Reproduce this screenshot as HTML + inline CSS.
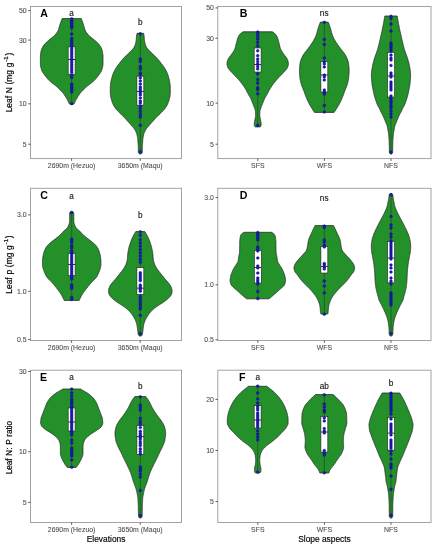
<!DOCTYPE html>
<html><head><meta charset="utf-8"><title>Figure</title>
<style>html,body{margin:0;padding:0;background:#fff}svg{display:block}</style></head>
<body>
<svg width="436" height="550" viewBox="0 0 436 550">
<rect width="436" height="550" fill="#fff"/>
<g font-family="'Liberation Sans', Arial, sans-serif">
<rect x="30.5" y="6.5" width="151.0" height="152.1" fill="#fff" stroke="#9a9a9a" stroke-width="0.9"/>
<rect x="217.8" y="6.5" width="213.2" height="152.1" fill="#fff" stroke="#9a9a9a" stroke-width="0.9"/>
<rect x="30.5" y="188.3" width="151.0" height="152.2" fill="#fff" stroke="#9a9a9a" stroke-width="0.9"/>
<rect x="217.8" y="188.3" width="213.2" height="152.2" fill="#fff" stroke="#9a9a9a" stroke-width="0.9"/>
<rect x="30.5" y="370.2" width="151.0" height="152.3" fill="#fff" stroke="#9a9a9a" stroke-width="0.9"/>
<rect x="217.8" y="370.2" width="213.2" height="152.3" fill="#fff" stroke="#9a9a9a" stroke-width="0.9"/>
<path d="M81.3 18.6 L81.5 19.1 L81.7 19.6 L81.9 20.1 L82.0 20.6 L82.2 21.1 L82.4 21.6 L82.6 22.1 L82.8 22.6 L82.9 23.1 L83.1 23.6 L83.3 24.1 L83.4 24.6 L83.6 25.1 L83.7 25.6 L83.9 26.1 L84.0 26.6 L84.1 27.1 L84.3 27.6 L84.4 28.1 L84.6 28.6 L84.7 29.1 L84.9 29.6 L85.1 30.1 L85.3 30.6 L85.6 31.1 L85.9 31.6 L86.2 32.1 L86.5 32.6 L86.9 33.1 L87.3 33.6 L87.7 34.1 L88.1 34.6 L88.5 35.1 L89.0 35.6 L89.5 36.1 L90.0 36.6 L90.7 37.1 L91.3 37.6 L91.9 38.1 L92.6 38.6 L93.2 39.1 L93.9 39.6 L94.5 40.1 L95.0 40.6 L95.6 41.1 L96.1 41.6 L96.7 42.1 L97.2 42.6 L97.7 43.1 L98.2 43.6 L98.7 44.1 L99.1 44.6 L99.5 45.1 L99.8 45.6 L100.1 46.1 L100.5 46.6 L100.8 47.1 L101.0 47.6 L101.3 48.1 L101.5 48.6 L101.7 49.1 L101.9 49.6 L102.1 50.1 L102.2 50.6 L102.3 51.1 L102.4 51.6 L102.5 52.1 L102.6 52.6 L102.7 53.1 L102.7 53.6 L102.8 54.1 L102.9 54.6 L102.9 55.1 L103.0 55.6 L103.0 56.1 L103.0 56.6 L103.0 57.1 L103.0 57.6 L103.0 58.1 L103.0 58.6 L103.0 59.1 L103.0 59.6 L103.0 60.1 L103.0 60.6 L103.0 61.1 L103.0 61.6 L103.0 62.1 L103.0 62.6 L103.0 63.1 L103.0 63.6 L103.0 64.1 L103.0 64.6 L102.9 65.1 L102.8 65.6 L102.8 66.1 L102.7 66.6 L102.6 67.1 L102.5 67.6 L102.3 68.1 L102.2 68.6 L102.1 69.1 L101.9 69.6 L101.8 70.1 L101.6 70.6 L101.4 71.1 L101.1 71.6 L100.8 72.1 L100.5 72.6 L100.1 73.1 L99.8 73.6 L99.4 74.1 L99.1 74.6 L98.7 75.1 L98.4 75.6 L98.0 76.1 L97.6 76.6 L97.2 77.1 L96.8 77.6 L96.4 78.1 L96.0 78.6 L95.6 79.1 L95.1 79.6 L94.6 80.1 L94.1 80.6 L93.6 81.1 L93.1 81.6 L92.5 82.1 L91.9 82.6 L91.2 83.1 L90.6 83.6 L89.9 84.1 L89.2 84.6 L88.6 85.1 L87.9 85.6 L87.3 86.1 L86.7 86.6 L86.1 87.1 L85.6 87.6 L85.1 88.1 L84.6 88.6 L84.2 89.1 L83.7 89.6 L83.2 90.1 L82.7 90.6 L82.2 91.1 L81.6 91.6 L81.1 92.1 L80.7 92.6 L80.2 93.1 L79.9 93.6 L79.5 94.1 L79.2 94.6 L78.9 95.1 L78.6 95.6 L78.2 96.1 L77.9 96.6 L77.6 97.1 L77.3 97.6 L76.9 98.1 L76.7 98.6 L76.4 99.1 L76.1 99.6 L75.9 100.1 L75.6 100.6 L75.4 101.1 L75.1 101.6 L74.9 102.1 L74.7 102.6 L74.5 103.1 L74.2 103.6 L73.7 104.1 L73.5 104.3 L69.9 104.3 L69.7 104.1 L69.2 103.6 L68.9 103.1 L68.7 102.6 L68.5 102.1 L68.3 101.6 L68.0 101.1 L67.8 100.6 L67.5 100.1 L67.3 99.6 L67.0 99.1 L66.7 98.6 L66.5 98.1 L66.1 97.6 L65.8 97.1 L65.5 96.6 L65.2 96.1 L64.8 95.6 L64.5 95.1 L64.2 94.6 L63.9 94.1 L63.5 93.6 L63.2 93.1 L62.7 92.6 L62.3 92.1 L61.8 91.6 L61.2 91.1 L60.7 90.6 L60.2 90.1 L59.7 89.6 L59.2 89.1 L58.8 88.6 L58.3 88.1 L57.8 87.6 L57.3 87.1 L56.7 86.6 L56.1 86.1 L55.5 85.6 L54.8 85.1 L54.2 84.6 L53.5 84.1 L52.8 83.6 L52.2 83.1 L51.5 82.6 L50.9 82.1 L50.3 81.6 L49.8 81.1 L49.3 80.6 L48.8 80.1 L48.3 79.6 L47.8 79.1 L47.4 78.6 L47.0 78.1 L46.6 77.6 L46.2 77.1 L45.8 76.6 L45.4 76.1 L45.0 75.6 L44.7 75.1 L44.3 74.6 L44.0 74.1 L43.6 73.6 L43.3 73.1 L42.9 72.6 L42.6 72.1 L42.3 71.6 L42.0 71.1 L41.8 70.6 L41.6 70.1 L41.5 69.6 L41.3 69.1 L41.2 68.6 L41.1 68.1 L40.9 67.6 L40.8 67.1 L40.7 66.6 L40.6 66.1 L40.6 65.6 L40.5 65.1 L40.4 64.6 L40.4 64.1 L40.4 63.6 L40.4 63.1 L40.4 62.6 L40.4 62.1 L40.4 61.6 L40.4 61.1 L40.4 60.6 L40.4 60.1 L40.4 59.6 L40.4 59.1 L40.4 58.6 L40.4 58.1 L40.4 57.6 L40.4 57.1 L40.4 56.6 L40.4 56.1 L40.4 55.6 L40.5 55.1 L40.5 54.6 L40.6 54.1 L40.7 53.6 L40.7 53.1 L40.8 52.6 L40.9 52.1 L41.0 51.6 L41.1 51.1 L41.2 50.6 L41.3 50.1 L41.5 49.6 L41.7 49.1 L41.9 48.6 L42.1 48.1 L42.4 47.6 L42.6 47.1 L42.9 46.6 L43.3 46.1 L43.6 45.6 L43.9 45.1 L44.3 44.6 L44.7 44.1 L45.2 43.6 L45.7 43.1 L46.2 42.6 L46.7 42.1 L47.3 41.6 L47.8 41.1 L48.4 40.6 L48.9 40.1 L49.5 39.6 L50.2 39.1 L50.8 38.6 L51.5 38.1 L52.1 37.6 L52.7 37.1 L53.4 36.6 L53.9 36.1 L54.4 35.6 L54.9 35.1 L55.3 34.6 L55.7 34.1 L56.1 33.6 L56.5 33.1 L56.9 32.6 L57.2 32.1 L57.5 31.6 L57.8 31.1 L58.1 30.6 L58.3 30.1 L58.5 29.6 L58.7 29.1 L58.8 28.6 L59.0 28.1 L59.1 27.6 L59.3 27.1 L59.4 26.6 L59.5 26.1 L59.7 25.6 L59.8 25.1 L60.0 24.6 L60.1 24.1 L60.3 23.6 L60.5 23.1 L60.6 22.6 L60.8 22.1 L61.0 21.6 L61.2 21.1 L61.4 20.6 L61.5 20.1 L61.7 19.6 L61.9 19.1 L62.1 18.6 Z" fill="#23902a" stroke="#2b2b2b" stroke-width="0.8" stroke-linejoin="round"/>
<line x1="71.7" y1="18.6" x2="71.7" y2="104.3" stroke="#2b2b2b" stroke-width="0.5"/>
<rect x="68.2" y="46.9" width="6.9" height="27.3" fill="#fff" stroke="#222" stroke-width="0.6"/>
<line x1="68.2" y1="59.5" x2="75.2" y2="59.5" stroke="#222" stroke-width="0.9"/>
<g fill="#1a1ec4" stroke="#0a0a78" stroke-width="0.5"><circle cx="71.7" cy="18.8" r="1.35"/><circle cx="71.7" cy="20.3" r="1.35"/><circle cx="71.7" cy="21.8" r="1.35"/><circle cx="71.7" cy="23.3" r="1.35"/><circle cx="71.7" cy="24.8" r="1.35"/><circle cx="71.7" cy="26.3" r="1.35"/><circle cx="71.7" cy="27.8" r="1.35"/><circle cx="71.7" cy="34.0" r="1.35"/><circle cx="71.7" cy="38.5" r="1.35"/><circle cx="71.7" cy="40.5" r="1.35"/><circle cx="71.7" cy="42.5" r="1.35"/><circle cx="71.7" cy="44.5" r="1.35"/><circle cx="71.7" cy="46.5" r="1.35"/><circle cx="71.7" cy="48.5" r="1.35"/><circle cx="71.7" cy="50.5" r="1.35"/><circle cx="71.7" cy="52.5" r="1.35"/><circle cx="71.7" cy="54.5" r="1.35"/><circle cx="71.7" cy="56.5" r="1.35"/><circle cx="71.7" cy="58.5" r="1.35"/><circle cx="71.7" cy="60.5" r="1.35"/><circle cx="71.7" cy="62.5" r="1.35"/><circle cx="71.7" cy="64.5" r="1.35"/><circle cx="71.7" cy="66.5" r="1.35"/><circle cx="71.7" cy="68.5" r="1.35"/><circle cx="71.7" cy="70.5" r="1.35"/><circle cx="71.7" cy="72.5" r="1.35"/><circle cx="71.7" cy="75.5" r="1.35"/><circle cx="71.7" cy="77.5" r="1.35"/><circle cx="71.7" cy="84.0" r="1.35"/><circle cx="71.7" cy="86.0" r="1.35"/><circle cx="71.7" cy="88.0" r="1.35"/><circle cx="71.7" cy="90.0" r="1.35"/><circle cx="71.7" cy="92.0" r="1.35"/><circle cx="71.7" cy="103.6" r="1.35"/></g>
<path d="M143.6 33.3 L143.7 33.8 L143.8 34.3 L143.9 34.8 L144.0 35.3 L144.1 35.8 L144.1 36.3 L144.2 36.8 L144.2 37.3 L144.2 37.8 L144.3 38.3 L144.3 38.8 L144.3 39.3 L144.4 39.8 L144.4 40.3 L144.5 40.8 L144.6 41.3 L144.7 41.8 L144.8 42.3 L144.9 42.8 L145.0 43.3 L145.1 43.8 L145.2 44.3 L145.4 44.8 L145.6 45.3 L145.8 45.8 L146.0 46.3 L146.3 46.8 L146.5 47.3 L146.9 47.8 L147.3 48.3 L147.6 48.8 L148.0 49.3 L148.5 49.8 L149.0 50.3 L149.5 50.8 L150.0 51.3 L150.5 51.8 L151.0 52.3 L151.5 52.8 L152.0 53.3 L152.5 53.8 L153.0 54.3 L153.5 54.8 L154.1 55.3 L154.6 55.8 L155.1 56.3 L155.6 56.8 L156.1 57.3 L156.6 57.8 L157.0 58.3 L157.5 58.8 L157.9 59.3 L158.4 59.8 L158.8 60.3 L159.2 60.8 L159.6 61.3 L160.0 61.8 L160.4 62.3 L160.7 62.8 L161.1 63.3 L161.5 63.8 L161.9 64.3 L162.3 64.8 L162.7 65.3 L163.1 65.8 L163.4 66.3 L163.8 66.8 L164.1 67.3 L164.4 67.8 L164.7 68.3 L165.0 68.8 L165.3 69.3 L165.6 69.8 L165.9 70.3 L166.2 70.8 L166.4 71.3 L166.6 71.8 L166.9 72.3 L167.1 72.8 L167.3 73.3 L167.5 73.8 L167.7 74.3 L167.9 74.8 L168.0 75.3 L168.2 75.8 L168.4 76.3 L168.5 76.8 L168.6 77.3 L168.8 77.8 L168.9 78.3 L169.0 78.8 L169.2 79.3 L169.3 79.8 L169.4 80.3 L169.5 80.8 L169.6 81.3 L169.7 81.8 L169.8 82.3 L169.8 82.8 L169.9 83.3 L170.0 83.8 L170.0 84.3 L170.1 84.8 L170.1 85.3 L170.2 85.8 L170.2 86.3 L170.3 86.8 L170.3 87.3 L170.3 87.8 L170.3 88.3 L170.3 88.8 L170.3 89.3 L170.3 89.8 L170.3 90.3 L170.3 90.8 L170.3 91.3 L170.3 91.8 L170.3 92.3 L170.3 92.8 L170.3 93.3 L170.2 93.8 L170.2 94.3 L170.1 94.8 L170.1 95.3 L170.0 95.8 L170.0 96.3 L169.9 96.8 L169.8 97.3 L169.7 97.8 L169.5 98.3 L169.4 98.8 L169.3 99.3 L169.1 99.8 L169.0 100.3 L168.8 100.8 L168.7 101.3 L168.5 101.8 L168.3 102.3 L168.1 102.8 L167.9 103.3 L167.7 103.8 L167.5 104.3 L167.3 104.8 L167.0 105.3 L166.7 105.8 L166.5 106.3 L166.1 106.8 L165.8 107.3 L165.5 107.8 L165.1 108.3 L164.8 108.8 L164.4 109.3 L164.0 109.8 L163.5 110.3 L163.0 110.8 L162.4 111.3 L161.9 111.8 L161.4 112.3 L161.0 112.8 L160.5 113.3 L160.1 113.8 L159.6 114.3 L159.1 114.8 L158.6 115.3 L158.0 115.8 L157.5 116.3 L156.9 116.8 L156.4 117.3 L155.9 117.8 L155.5 118.3 L155.0 118.8 L154.6 119.3 L154.2 119.8 L153.7 120.3 L153.3 120.8 L152.8 121.3 L152.4 121.8 L151.9 122.3 L151.5 122.8 L151.0 123.3 L150.6 123.8 L150.2 124.3 L149.7 124.8 L149.3 125.3 L148.9 125.8 L148.4 126.3 L148.0 126.8 L147.5 127.3 L147.1 127.8 L146.7 128.3 L146.3 128.8 L146.0 129.3 L145.7 129.8 L145.4 130.3 L145.1 130.8 L144.9 131.3 L144.7 131.8 L144.4 132.3 L144.2 132.8 L144.0 133.3 L143.9 133.8 L143.7 134.3 L143.6 134.8 L143.5 135.3 L143.4 135.8 L143.3 136.3 L143.2 136.8 L143.1 137.3 L143.0 137.8 L142.9 138.3 L142.9 138.8 L142.8 139.3 L142.8 139.8 L142.8 140.3 L142.7 140.8 L142.7 141.3 L142.7 141.8 L142.6 142.3 L142.6 142.8 L142.6 143.3 L142.5 143.8 L142.5 144.3 L142.4 144.8 L142.4 145.3 L142.3 145.8 L142.3 146.3 L142.3 146.8 L142.3 147.3 L142.3 147.8 L142.3 148.3 L142.3 148.8 L142.3 149.3 L142.3 149.8 L142.3 150.3 L142.3 150.8 L142.3 151.3 L142.3 151.8 L142.3 152.3 L142.1 152.8 L141.8 153.3 L141.2 153.8 L141.0 153.9 L139.6 153.9 L139.4 153.8 L138.8 153.3 L138.5 152.8 L138.3 152.3 L138.3 151.8 L138.3 151.3 L138.3 150.8 L138.3 150.3 L138.3 149.8 L138.3 149.3 L138.3 148.8 L138.3 148.3 L138.3 147.8 L138.3 147.3 L138.3 146.8 L138.3 146.3 L138.3 145.8 L138.2 145.3 L138.2 144.8 L138.1 144.3 L138.1 143.8 L138.0 143.3 L138.0 142.8 L138.0 142.3 L137.9 141.8 L137.9 141.3 L137.9 140.8 L137.8 140.3 L137.8 139.8 L137.8 139.3 L137.7 138.8 L137.7 138.3 L137.6 137.8 L137.5 137.3 L137.4 136.8 L137.3 136.3 L137.2 135.8 L137.1 135.3 L137.0 134.8 L136.9 134.3 L136.7 133.8 L136.6 133.3 L136.4 132.8 L136.2 132.3 L135.9 131.8 L135.7 131.3 L135.5 130.8 L135.2 130.3 L134.9 129.8 L134.6 129.3 L134.3 128.8 L133.9 128.3 L133.5 127.8 L133.1 127.3 L132.6 126.8 L132.2 126.3 L131.7 125.8 L131.3 125.3 L130.9 124.8 L130.4 124.3 L130.0 123.8 L129.6 123.3 L129.1 122.8 L128.7 122.3 L128.2 121.8 L127.8 121.3 L127.3 120.8 L126.9 120.3 L126.4 119.8 L126.0 119.3 L125.6 118.8 L125.1 118.3 L124.7 117.8 L124.2 117.3 L123.7 116.8 L123.1 116.3 L122.6 115.8 L122.0 115.3 L121.5 114.8 L121.0 114.3 L120.5 113.8 L120.1 113.3 L119.6 112.8 L119.2 112.3 L118.7 111.8 L118.2 111.3 L117.6 110.8 L117.1 110.3 L116.6 109.8 L116.2 109.3 L115.8 108.8 L115.5 108.3 L115.1 107.8 L114.8 107.3 L114.5 106.8 L114.1 106.3 L113.9 105.8 L113.6 105.3 L113.3 104.8 L113.1 104.3 L112.9 103.8 L112.7 103.3 L112.5 102.8 L112.3 102.3 L112.1 101.8 L111.9 101.3 L111.8 100.8 L111.6 100.3 L111.5 99.8 L111.3 99.3 L111.2 98.8 L111.1 98.3 L110.9 97.8 L110.8 97.3 L110.7 96.8 L110.6 96.3 L110.6 95.8 L110.5 95.3 L110.5 94.8 L110.4 94.3 L110.4 93.8 L110.3 93.3 L110.3 92.8 L110.3 92.3 L110.3 91.8 L110.3 91.3 L110.3 90.8 L110.3 90.3 L110.3 89.8 L110.3 89.3 L110.3 88.8 L110.3 88.3 L110.3 87.8 L110.3 87.3 L110.3 86.8 L110.4 86.3 L110.4 85.8 L110.5 85.3 L110.5 84.8 L110.6 84.3 L110.6 83.8 L110.7 83.3 L110.8 82.8 L110.8 82.3 L110.9 81.8 L111.0 81.3 L111.1 80.8 L111.2 80.3 L111.3 79.8 L111.4 79.3 L111.6 78.8 L111.7 78.3 L111.8 77.8 L112.0 77.3 L112.1 76.8 L112.2 76.3 L112.4 75.8 L112.6 75.3 L112.7 74.8 L112.9 74.3 L113.1 73.8 L113.3 73.3 L113.5 72.8 L113.7 72.3 L114.0 71.8 L114.2 71.3 L114.4 70.8 L114.7 70.3 L115.0 69.8 L115.3 69.3 L115.6 68.8 L115.9 68.3 L116.2 67.8 L116.5 67.3 L116.8 66.8 L117.2 66.3 L117.5 65.8 L117.9 65.3 L118.3 64.8 L118.7 64.3 L119.1 63.8 L119.5 63.3 L119.9 62.8 L120.2 62.3 L120.6 61.8 L121.0 61.3 L121.4 60.8 L121.8 60.3 L122.2 59.8 L122.7 59.3 L123.1 58.8 L123.6 58.3 L124.0 57.8 L124.5 57.3 L125.0 56.8 L125.5 56.3 L126.0 55.8 L126.5 55.3 L127.1 54.8 L127.6 54.3 L128.1 53.8 L128.6 53.3 L129.1 52.8 L129.6 52.3 L130.1 51.8 L130.6 51.3 L131.1 50.8 L131.6 50.3 L132.1 49.8 L132.6 49.3 L133.0 48.8 L133.3 48.3 L133.7 47.8 L134.1 47.3 L134.3 46.8 L134.6 46.3 L134.8 45.8 L135.0 45.3 L135.2 44.8 L135.4 44.3 L135.5 43.8 L135.6 43.3 L135.7 42.8 L135.8 42.3 L135.9 41.8 L136.0 41.3 L136.1 40.8 L136.2 40.3 L136.2 39.8 L136.3 39.3 L136.3 38.8 L136.3 38.3 L136.4 37.8 L136.4 37.3 L136.4 36.8 L136.5 36.3 L136.5 35.8 L136.6 35.3 L136.7 34.8 L136.8 34.3 L136.9 33.8 L137.0 33.3 Z" fill="#23902a" stroke="#2b2b2b" stroke-width="0.8" stroke-linejoin="round"/>
<line x1="140.3" y1="33.3" x2="140.3" y2="153.9" stroke="#2b2b2b" stroke-width="0.5"/>
<rect x="136.9" y="76.2" width="6.9" height="28.9" fill="#fff" stroke="#222" stroke-width="0.6"/>
<line x1="136.9" y1="91.5" x2="143.8" y2="91.5" stroke="#222" stroke-width="0.9"/>
<g fill="#1a1ec4" stroke="#0a0a78" stroke-width="0.5"><circle cx="140.3" cy="33.8" r="1.35"/><circle cx="140.3" cy="59.0" r="1.35"/><circle cx="140.3" cy="61.4" r="1.35"/><circle cx="140.3" cy="66.6" r="1.35"/><circle cx="140.3" cy="69.0" r="1.35"/><circle cx="140.3" cy="73.0" r="1.35"/><circle cx="140.3" cy="75.0" r="1.35"/><circle cx="140.3" cy="78.0" r="1.35"/><circle cx="140.3" cy="81.0" r="1.35"/><circle cx="140.3" cy="84.0" r="1.35"/><circle cx="140.3" cy="87.0" r="1.35"/><circle cx="140.3" cy="89.0" r="1.35"/><circle cx="140.3" cy="91.0" r="1.35"/><circle cx="140.3" cy="93.0" r="1.35"/><circle cx="140.3" cy="95.0" r="1.35"/><circle cx="140.3" cy="98.0" r="1.35"/><circle cx="140.3" cy="101.0" r="1.35"/><circle cx="140.3" cy="103.0" r="1.35"/><circle cx="140.3" cy="106.0" r="1.35"/><circle cx="140.3" cy="108.5" r="1.35"/><circle cx="140.3" cy="111.5" r="1.35"/><circle cx="140.3" cy="114.5" r="1.35"/><circle cx="140.3" cy="117.0" r="1.35"/><circle cx="140.3" cy="125.3" r="1.35"/><circle cx="140.3" cy="151.8" r="1.35"/></g>
<path d="M72.9 211.8 L73.5 212.3 L73.7 212.8 L73.7 213.3 L73.8 213.8 L73.8 214.3 L73.8 214.8 L73.8 215.3 L73.8 215.8 L73.8 216.3 L73.8 216.8 L73.8 217.3 L73.8 217.8 L73.8 218.3 L73.8 218.8 L73.8 219.3 L73.8 219.8 L73.8 220.3 L73.8 220.8 L73.8 221.3 L73.8 221.8 L73.9 222.3 L74.0 222.8 L74.1 223.3 L74.3 223.8 L74.4 224.3 L74.6 224.8 L74.8 225.3 L75.0 225.8 L75.3 226.3 L75.5 226.8 L75.8 227.3 L76.1 227.8 L76.5 228.3 L76.9 228.8 L77.5 229.3 L78.1 229.8 L78.7 230.3 L79.3 230.8 L79.9 231.3 L80.4 231.8 L80.8 232.3 L81.3 232.8 L81.7 233.3 L82.1 233.8 L82.6 234.3 L83.1 234.8 L83.6 235.3 L84.2 235.8 L84.8 236.3 L85.4 236.8 L86.0 237.3 L86.7 237.8 L87.3 238.3 L87.9 238.8 L88.6 239.3 L89.3 239.8 L89.9 240.3 L90.6 240.8 L91.3 241.3 L91.9 241.8 L92.5 242.3 L93.1 242.8 L93.7 243.3 L94.2 243.8 L94.7 244.3 L95.2 244.8 L95.7 245.3 L96.1 245.8 L96.5 246.3 L96.8 246.8 L97.2 247.3 L97.5 247.8 L97.8 248.3 L98.1 248.8 L98.3 249.3 L98.5 249.8 L98.7 250.3 L98.9 250.8 L99.1 251.3 L99.3 251.8 L99.4 252.3 L99.6 252.8 L99.7 253.3 L99.9 253.8 L100.0 254.3 L100.1 254.8 L100.2 255.3 L100.3 255.8 L100.4 256.3 L100.5 256.8 L100.6 257.3 L100.6 257.8 L100.7 258.3 L100.8 258.8 L100.8 259.3 L100.9 259.8 L100.9 260.3 L100.9 260.8 L100.9 261.3 L100.9 261.8 L100.9 262.3 L100.9 262.8 L100.9 263.3 L100.9 263.8 L100.9 264.3 L100.9 264.8 L100.9 265.3 L100.8 265.8 L100.8 266.3 L100.7 266.8 L100.6 267.3 L100.4 267.8 L100.3 268.3 L100.2 268.8 L100.0 269.3 L99.9 269.8 L99.7 270.3 L99.5 270.8 L99.3 271.3 L99.1 271.8 L98.9 272.3 L98.7 272.8 L98.5 273.3 L98.3 273.8 L98.1 274.3 L97.8 274.8 L97.6 275.3 L97.3 275.8 L97.1 276.3 L96.8 276.8 L96.4 277.3 L96.1 277.8 L95.6 278.3 L95.2 278.8 L94.6 279.3 L94.1 279.8 L93.5 280.3 L93.0 280.8 L92.5 281.3 L92.0 281.8 L91.6 282.3 L91.1 282.8 L90.7 283.3 L90.3 283.8 L89.9 284.3 L89.5 284.8 L89.1 285.3 L88.6 285.8 L88.2 286.3 L87.8 286.8 L87.4 287.3 L87.0 287.8 L86.6 288.3 L86.3 288.8 L85.9 289.3 L85.5 289.8 L85.1 290.3 L84.7 290.8 L84.4 291.3 L84.0 291.8 L83.6 292.3 L83.3 292.8 L82.9 293.3 L82.6 293.8 L82.3 294.3 L82.0 294.8 L81.7 295.3 L81.4 295.8 L81.2 296.3 L80.9 296.8 L80.7 297.3 L80.4 297.8 L80.2 298.3 L80.0 298.8 L79.7 299.3 L79.5 299.8 L79.2 300.3 L79.2 300.4 L64.2 300.4 L64.2 300.3 L63.9 299.8 L63.7 299.3 L63.4 298.8 L63.2 298.3 L63.0 297.8 L62.7 297.3 L62.5 296.8 L62.2 296.3 L62.0 295.8 L61.7 295.3 L61.4 294.8 L61.1 294.3 L60.8 293.8 L60.5 293.3 L60.1 292.8 L59.8 292.3 L59.4 291.8 L59.0 291.3 L58.7 290.8 L58.3 290.3 L57.9 289.8 L57.5 289.3 L57.1 288.8 L56.8 288.3 L56.4 287.8 L56.0 287.3 L55.6 286.8 L55.2 286.3 L54.8 285.8 L54.3 285.3 L53.9 284.8 L53.5 284.3 L53.1 283.8 L52.7 283.3 L52.3 282.8 L51.8 282.3 L51.4 281.8 L50.9 281.3 L50.4 280.8 L49.9 280.3 L49.3 279.8 L48.8 279.3 L48.2 278.8 L47.8 278.3 L47.3 277.8 L47.0 277.3 L46.6 276.8 L46.3 276.3 L46.1 275.8 L45.8 275.3 L45.6 274.8 L45.3 274.3 L45.1 273.8 L44.9 273.3 L44.7 272.8 L44.5 272.3 L44.3 271.8 L44.1 271.3 L43.9 270.8 L43.7 270.3 L43.5 269.8 L43.4 269.3 L43.2 268.8 L43.1 268.3 L43.0 267.8 L42.8 267.3 L42.7 266.8 L42.6 266.3 L42.6 265.8 L42.5 265.3 L42.5 264.8 L42.5 264.3 L42.5 263.8 L42.5 263.3 L42.5 262.8 L42.5 262.3 L42.5 261.8 L42.5 261.3 L42.5 260.8 L42.5 260.3 L42.5 259.8 L42.6 259.3 L42.6 258.8 L42.7 258.3 L42.8 257.8 L42.8 257.3 L42.9 256.8 L43.0 256.3 L43.1 255.8 L43.2 255.3 L43.3 254.8 L43.4 254.3 L43.5 253.8 L43.7 253.3 L43.8 252.8 L44.0 252.3 L44.1 251.8 L44.3 251.3 L44.5 250.8 L44.7 250.3 L44.9 249.8 L45.1 249.3 L45.3 248.8 L45.6 248.3 L45.9 247.8 L46.2 247.3 L46.6 246.8 L46.9 246.3 L47.3 245.8 L47.7 245.3 L48.2 244.8 L48.7 244.3 L49.2 243.8 L49.7 243.3 L50.3 242.8 L50.9 242.3 L51.5 241.8 L52.1 241.3 L52.8 240.8 L53.5 240.3 L54.1 239.8 L54.8 239.3 L55.5 238.8 L56.1 238.3 L56.7 237.8 L57.4 237.3 L58.0 236.8 L58.6 236.3 L59.2 235.8 L59.8 235.3 L60.3 234.8 L60.8 234.3 L61.3 233.8 L61.7 233.3 L62.1 232.8 L62.6 232.3 L63.0 231.8 L63.5 231.3 L64.1 230.8 L64.7 230.3 L65.3 229.8 L65.9 229.3 L66.5 228.8 L66.9 228.3 L67.3 227.8 L67.6 227.3 L67.9 226.8 L68.1 226.3 L68.4 225.8 L68.6 225.3 L68.8 224.8 L69.0 224.3 L69.1 223.8 L69.3 223.3 L69.4 222.8 L69.5 222.3 L69.6 221.8 L69.6 221.3 L69.6 220.8 L69.6 220.3 L69.6 219.8 L69.6 219.3 L69.6 218.8 L69.6 218.3 L69.6 217.8 L69.6 217.3 L69.6 216.8 L69.6 216.3 L69.6 215.8 L69.6 215.3 L69.6 214.8 L69.6 214.3 L69.6 213.8 L69.7 213.3 L69.7 212.8 L69.9 212.3 L70.5 211.8 Z" fill="#23902a" stroke="#2b2b2b" stroke-width="0.8" stroke-linejoin="round"/>
<line x1="71.7" y1="211.8" x2="71.7" y2="300.4" stroke="#2b2b2b" stroke-width="0.5"/>
<rect x="68.2" y="253.5" width="6.9" height="22.2" fill="#fff" stroke="#222" stroke-width="0.6"/>
<line x1="68.2" y1="264.5" x2="75.2" y2="264.5" stroke="#222" stroke-width="0.9"/>
<g fill="#1a1ec4" stroke="#0a0a78" stroke-width="0.5"><circle cx="71.7" cy="212.6" r="1.35"/><circle cx="71.7" cy="239.0" r="1.35"/><circle cx="71.7" cy="241.0" r="1.35"/><circle cx="71.7" cy="243.0" r="1.35"/><circle cx="71.7" cy="246.0" r="1.35"/><circle cx="71.7" cy="248.0" r="1.35"/><circle cx="71.7" cy="251.0" r="1.35"/><circle cx="71.7" cy="253.0" r="1.35"/><circle cx="71.7" cy="255.0" r="1.35"/><circle cx="71.7" cy="257.0" r="1.35"/><circle cx="71.7" cy="259.0" r="1.35"/><circle cx="71.7" cy="261.0" r="1.35"/><circle cx="71.7" cy="263.0" r="1.35"/><circle cx="71.7" cy="265.0" r="1.35"/><circle cx="71.7" cy="267.0" r="1.35"/><circle cx="71.7" cy="269.0" r="1.35"/><circle cx="71.7" cy="271.0" r="1.35"/><circle cx="71.7" cy="273.0" r="1.35"/><circle cx="71.7" cy="275.0" r="1.35"/><circle cx="71.7" cy="277.0" r="1.35"/><circle cx="71.7" cy="279.0" r="1.35"/><circle cx="71.7" cy="284.8" r="1.35"/><circle cx="71.7" cy="286.6" r="1.35"/><circle cx="71.7" cy="288.4" r="1.35"/><circle cx="71.7" cy="297.4" r="1.35"/><circle cx="71.7" cy="299.4" r="1.35"/></g>
<path d="M144.8 231.6 L145.1 232.1 L145.4 232.6 L145.7 233.1 L146.0 233.6 L146.3 234.1 L146.6 234.6 L146.9 235.1 L147.1 235.6 L147.4 236.1 L147.6 236.6 L147.9 237.1 L148.1 237.6 L148.3 238.1 L148.6 238.6 L148.8 239.1 L149.0 239.6 L149.2 240.1 L149.4 240.6 L149.6 241.1 L149.8 241.6 L149.9 242.1 L150.1 242.6 L150.3 243.1 L150.5 243.6 L150.7 244.1 L150.8 244.6 L151.0 245.1 L151.1 245.6 L151.3 246.1 L151.4 246.6 L151.5 247.1 L151.7 247.6 L151.8 248.1 L151.9 248.6 L152.0 249.1 L152.1 249.6 L152.2 250.1 L152.3 250.6 L152.4 251.1 L152.5 251.6 L152.6 252.1 L152.7 252.6 L152.7 253.1 L152.8 253.6 L152.8 254.1 L152.9 254.6 L152.9 255.1 L153.0 255.6 L153.0 256.1 L153.0 256.6 L153.1 257.1 L153.1 257.6 L153.1 258.1 L153.2 258.6 L153.3 259.1 L153.3 259.6 L153.4 260.1 L153.5 260.6 L153.6 261.1 L153.7 261.6 L153.9 262.1 L154.0 262.6 L154.2 263.1 L154.4 263.6 L154.5 264.1 L154.7 264.6 L154.9 265.1 L155.2 265.6 L155.4 266.1 L155.7 266.6 L156.0 267.1 L156.3 267.6 L156.6 268.1 L156.9 268.6 L157.3 269.1 L157.6 269.6 L157.9 270.1 L158.3 270.6 L158.7 271.1 L159.1 271.6 L159.5 272.1 L159.9 272.6 L160.3 273.1 L160.7 273.6 L161.1 274.1 L161.5 274.6 L161.9 275.1 L162.3 275.6 L162.7 276.1 L163.1 276.6 L163.5 277.1 L163.9 277.6 L164.3 278.1 L164.7 278.6 L165.1 279.1 L165.5 279.6 L166.0 280.1 L166.4 280.6 L166.9 281.1 L167.3 281.6 L167.8 282.1 L168.2 282.6 L168.6 283.1 L169.0 283.6 L169.4 284.1 L169.7 284.6 L170.1 285.1 L170.4 285.6 L170.7 286.1 L170.9 286.6 L171.1 287.1 L171.3 287.6 L171.5 288.1 L171.7 288.6 L171.8 289.1 L171.9 289.6 L171.9 290.1 L172.0 290.6 L172.0 291.1 L172.0 291.6 L172.0 292.1 L171.9 292.6 L171.8 293.1 L171.7 293.6 L171.5 294.1 L171.3 294.6 L171.0 295.1 L170.7 295.6 L170.4 296.1 L170.0 296.6 L169.6 297.1 L169.1 297.6 L168.6 298.1 L168.1 298.6 L167.5 299.1 L166.9 299.6 L166.3 300.1 L165.6 300.6 L164.9 301.1 L164.3 301.6 L163.6 302.1 L162.9 302.6 L162.1 303.1 L161.3 303.6 L160.5 304.1 L159.7 304.6 L159.0 305.1 L158.2 305.6 L157.4 306.1 L156.7 306.6 L156.0 307.1 L155.3 307.6 L154.7 308.1 L154.1 308.6 L153.5 309.1 L152.9 309.6 L152.4 310.1 L151.9 310.6 L151.4 311.1 L150.9 311.6 L150.5 312.1 L150.0 312.6 L149.6 313.1 L149.2 313.6 L148.9 314.1 L148.5 314.6 L148.2 315.1 L147.9 315.6 L147.5 316.1 L147.2 316.6 L146.9 317.1 L146.6 317.6 L146.3 318.1 L146.0 318.6 L145.8 319.1 L145.5 319.6 L145.3 320.1 L145.0 320.6 L144.8 321.1 L144.7 321.6 L144.5 322.1 L144.3 322.6 L144.1 323.1 L144.0 323.6 L143.9 324.1 L143.7 324.6 L143.6 325.1 L143.6 325.6 L143.5 326.1 L143.4 326.6 L143.3 327.1 L143.3 327.6 L143.2 328.1 L143.1 328.6 L143.1 329.1 L143.0 329.6 L143.0 330.1 L142.9 330.6 L142.8 331.1 L142.8 331.6 L142.7 332.1 L142.7 332.6 L142.6 333.1 L142.5 333.6 L142.4 334.1 L142.3 334.6 L142.2 335.1 L141.7 335.6 L141.2 336.0 L139.4 336.0 L138.9 335.6 L138.4 335.1 L138.3 334.6 L138.2 334.1 L138.1 333.6 L138.0 333.1 L137.9 332.6 L137.9 332.1 L137.8 331.6 L137.8 331.1 L137.7 330.6 L137.6 330.1 L137.6 329.6 L137.5 329.1 L137.5 328.6 L137.4 328.1 L137.3 327.6 L137.3 327.1 L137.2 326.6 L137.1 326.1 L137.0 325.6 L137.0 325.1 L136.9 324.6 L136.7 324.1 L136.6 323.6 L136.5 323.1 L136.3 322.6 L136.1 322.1 L135.9 321.6 L135.8 321.1 L135.6 320.6 L135.3 320.1 L135.1 319.6 L134.8 319.1 L134.6 318.6 L134.3 318.1 L134.0 317.6 L133.7 317.1 L133.4 316.6 L133.1 316.1 L132.7 315.6 L132.4 315.1 L132.1 314.6 L131.7 314.1 L131.4 313.6 L131.0 313.1 L130.6 312.6 L130.1 312.1 L129.7 311.6 L129.2 311.1 L128.7 310.6 L128.2 310.1 L127.7 309.6 L127.1 309.1 L126.5 308.6 L125.9 308.1 L125.3 307.6 L124.6 307.1 L123.9 306.6 L123.2 306.1 L122.4 305.6 L121.6 305.1 L120.9 304.6 L120.1 304.1 L119.3 303.6 L118.5 303.1 L117.7 302.6 L117.0 302.1 L116.3 301.6 L115.7 301.1 L115.0 300.6 L114.3 300.1 L113.7 299.6 L113.1 299.1 L112.5 298.6 L112.0 298.1 L111.5 297.6 L111.0 297.1 L110.6 296.6 L110.2 296.1 L109.9 295.6 L109.6 295.1 L109.3 294.6 L109.1 294.1 L108.9 293.6 L108.8 293.1 L108.7 292.6 L108.6 292.1 L108.6 291.6 L108.6 291.1 L108.6 290.6 L108.7 290.1 L108.7 289.6 L108.8 289.1 L108.9 288.6 L109.1 288.1 L109.3 287.6 L109.5 287.1 L109.7 286.6 L109.9 286.1 L110.2 285.6 L110.5 285.1 L110.9 284.6 L111.2 284.1 L111.6 283.6 L112.0 283.1 L112.4 282.6 L112.8 282.1 L113.3 281.6 L113.7 281.1 L114.2 280.6 L114.6 280.1 L115.1 279.6 L115.5 279.1 L115.9 278.6 L116.3 278.1 L116.7 277.6 L117.1 277.1 L117.5 276.6 L117.9 276.1 L118.3 275.6 L118.7 275.1 L119.1 274.6 L119.5 274.1 L119.9 273.6 L120.3 273.1 L120.7 272.6 L121.1 272.1 L121.5 271.6 L121.9 271.1 L122.3 270.6 L122.7 270.1 L123.0 269.6 L123.3 269.1 L123.7 268.6 L124.0 268.1 L124.3 267.6 L124.6 267.1 L124.9 266.6 L125.2 266.1 L125.4 265.6 L125.7 265.1 L125.9 264.6 L126.1 264.1 L126.2 263.6 L126.4 263.1 L126.6 262.6 L126.7 262.1 L126.9 261.6 L127.0 261.1 L127.1 260.6 L127.2 260.1 L127.3 259.6 L127.3 259.1 L127.4 258.6 L127.5 258.1 L127.5 257.6 L127.5 257.1 L127.6 256.6 L127.6 256.1 L127.6 255.6 L127.7 255.1 L127.7 254.6 L127.8 254.1 L127.8 253.6 L127.9 253.1 L127.9 252.6 L128.0 252.1 L128.1 251.6 L128.2 251.1 L128.3 250.6 L128.4 250.1 L128.5 249.6 L128.6 249.1 L128.7 248.6 L128.8 248.1 L128.9 247.6 L129.1 247.1 L129.2 246.6 L129.3 246.1 L129.5 245.6 L129.6 245.1 L129.8 244.6 L129.9 244.1 L130.1 243.6 L130.3 243.1 L130.5 242.6 L130.7 242.1 L130.8 241.6 L131.0 241.1 L131.2 240.6 L131.4 240.1 L131.6 239.6 L131.8 239.1 L132.0 238.6 L132.3 238.1 L132.5 237.6 L132.7 237.1 L133.0 236.6 L133.2 236.1 L133.5 235.6 L133.7 235.1 L134.0 234.6 L134.3 234.1 L134.6 233.6 L134.9 233.1 L135.2 232.6 L135.5 232.1 L135.8 231.6 Z" fill="#23902a" stroke="#2b2b2b" stroke-width="0.8" stroke-linejoin="round"/>
<line x1="140.3" y1="231.6" x2="140.3" y2="336.0" stroke="#2b2b2b" stroke-width="0.5"/>
<rect x="136.9" y="267.6" width="6.9" height="26.7" fill="#fff" stroke="#222" stroke-width="0.6"/>
<line x1="136.9" y1="288.2" x2="143.8" y2="288.2" stroke="#222" stroke-width="0.9"/>
<g fill="#1a1ec4" stroke="#0a0a78" stroke-width="0.5"><circle cx="140.3" cy="231.8" r="1.35"/><circle cx="140.3" cy="235.4" r="1.35"/><circle cx="140.3" cy="239.6" r="1.35"/><circle cx="140.3" cy="242.9" r="1.35"/><circle cx="140.3" cy="246.2" r="1.35"/><circle cx="140.3" cy="249.5" r="1.35"/><circle cx="140.3" cy="252.8" r="1.35"/><circle cx="140.3" cy="256.1" r="1.35"/><circle cx="140.3" cy="259.4" r="1.35"/><circle cx="140.3" cy="262.3" r="1.35"/><circle cx="140.3" cy="272.8" r="1.35"/><circle cx="140.3" cy="274.8" r="1.35"/><circle cx="140.3" cy="276.8" r="1.35"/><circle cx="140.3" cy="278.8" r="1.35"/><circle cx="140.3" cy="280.6" r="1.35"/><circle cx="140.3" cy="285.2" r="1.35"/><circle cx="140.3" cy="287.2" r="1.35"/><circle cx="140.3" cy="289.2" r="1.35"/><circle cx="140.3" cy="291.2" r="1.35"/><circle cx="140.3" cy="296.5" r="1.35"/><circle cx="140.3" cy="299.0" r="1.35"/><circle cx="140.3" cy="301.5" r="1.35"/><circle cx="140.3" cy="304.0" r="1.35"/><circle cx="140.3" cy="306.5" r="1.35"/><circle cx="140.3" cy="309.0" r="1.35"/><circle cx="140.3" cy="315.3" r="1.35"/><circle cx="140.3" cy="333.6" r="1.35"/></g>
<path d="M80.4 389.0 L81.3 389.5 L82.1 390.0 L83.0 390.5 L83.9 391.0 L84.7 391.5 L85.6 392.0 L86.4 392.5 L87.3 393.0 L88.0 393.5 L88.7 394.0 L89.4 394.5 L90.0 395.0 L90.6 395.5 L91.2 396.0 L91.8 396.5 L92.3 397.0 L92.8 397.5 L93.3 398.0 L93.7 398.5 L94.1 399.0 L94.4 399.5 L94.8 400.0 L95.1 400.5 L95.4 401.0 L95.7 401.5 L96.0 402.0 L96.3 402.5 L96.5 403.0 L96.8 403.5 L97.0 404.0 L97.2 404.5 L97.4 405.0 L97.6 405.5 L97.8 406.0 L98.0 406.5 L98.1 407.0 L98.3 407.5 L98.5 408.0 L98.7 408.5 L98.9 409.0 L99.1 409.5 L99.3 410.0 L99.5 410.5 L99.7 411.0 L99.9 411.5 L100.1 412.0 L100.3 412.5 L100.4 413.0 L100.6 413.5 L100.8 414.0 L101.0 414.5 L101.2 415.0 L101.4 415.5 L101.6 416.0 L101.8 416.5 L102.0 417.0 L102.1 417.5 L102.3 418.0 L102.4 418.5 L102.4 419.0 L102.5 419.5 L102.6 420.0 L102.6 420.5 L102.7 421.0 L102.7 421.5 L102.8 422.0 L102.8 422.5 L102.8 423.0 L102.7 423.5 L102.6 424.0 L102.4 424.5 L102.2 425.0 L102.0 425.5 L101.8 426.0 L101.5 426.5 L101.0 427.0 L100.5 427.5 L99.9 428.0 L99.3 428.5 L98.6 429.0 L97.9 429.5 L97.2 430.0 L96.5 430.5 L95.7 431.0 L94.9 431.5 L94.1 432.0 L93.2 432.5 L92.4 433.0 L91.7 433.5 L91.0 434.0 L90.3 434.5 L89.6 435.0 L89.0 435.5 L88.4 436.0 L87.8 436.5 L87.3 437.0 L86.8 437.5 L86.3 438.0 L85.8 438.5 L85.4 439.0 L85.0 439.5 L84.6 440.0 L84.4 440.5 L84.2 441.0 L84.0 441.5 L83.8 442.0 L83.7 442.5 L83.6 443.0 L83.4 443.5 L83.3 444.0 L83.2 444.5 L83.1 445.0 L83.1 445.5 L83.0 446.0 L83.0 446.5 L83.0 447.0 L83.0 447.5 L83.0 448.0 L83.0 448.5 L83.0 449.0 L83.0 449.5 L83.0 450.0 L83.0 450.5 L83.0 451.0 L83.0 451.5 L83.0 452.0 L83.0 452.5 L83.0 453.0 L83.0 453.5 L83.0 454.0 L82.9 454.5 L82.8 455.0 L82.7 455.5 L82.5 456.0 L82.3 456.5 L82.2 457.0 L82.0 457.5 L81.8 458.0 L81.6 458.5 L81.4 459.0 L81.1 459.5 L80.9 460.0 L80.6 460.5 L80.3 461.0 L80.0 461.5 L79.8 462.0 L79.5 462.5 L79.2 463.0 L78.9 463.5 L78.6 464.0 L78.3 464.5 L78.0 465.0 L77.6 465.5 L77.2 466.0 L76.8 466.5 L76.4 467.0 L76.1 467.4 L67.3 467.4 L67.0 467.0 L66.6 466.5 L66.2 466.0 L65.8 465.5 L65.4 465.0 L65.1 464.5 L64.8 464.0 L64.5 463.5 L64.2 463.0 L63.9 462.5 L63.6 462.0 L63.4 461.5 L63.1 461.0 L62.8 460.5 L62.5 460.0 L62.3 459.5 L62.0 459.0 L61.8 458.5 L61.6 458.0 L61.4 457.5 L61.2 457.0 L61.1 456.5 L60.9 456.0 L60.7 455.5 L60.6 455.0 L60.5 454.5 L60.4 454.0 L60.4 453.5 L60.4 453.0 L60.4 452.5 L60.4 452.0 L60.4 451.5 L60.4 451.0 L60.4 450.5 L60.4 450.0 L60.4 449.5 L60.4 449.0 L60.4 448.5 L60.4 448.0 L60.4 447.5 L60.4 447.0 L60.4 446.5 L60.4 446.0 L60.3 445.5 L60.3 445.0 L60.2 444.5 L60.1 444.0 L60.0 443.5 L59.8 443.0 L59.7 442.5 L59.6 442.0 L59.4 441.5 L59.2 441.0 L59.0 440.5 L58.8 440.0 L58.4 439.5 L58.0 439.0 L57.6 438.5 L57.1 438.0 L56.6 437.5 L56.1 437.0 L55.6 436.5 L55.0 436.0 L54.4 435.5 L53.8 435.0 L53.1 434.5 L52.4 434.0 L51.7 433.5 L51.0 433.0 L50.2 432.5 L49.3 432.0 L48.5 431.5 L47.7 431.0 L46.9 430.5 L46.2 430.0 L45.5 429.5 L44.8 429.0 L44.1 428.5 L43.5 428.0 L42.9 427.5 L42.4 427.0 L41.9 426.5 L41.6 426.0 L41.4 425.5 L41.2 425.0 L41.0 424.5 L40.8 424.0 L40.7 423.5 L40.6 423.0 L40.6 422.5 L40.6 422.0 L40.7 421.5 L40.7 421.0 L40.8 420.5 L40.8 420.0 L40.9 419.5 L41.0 419.0 L41.0 418.5 L41.1 418.0 L41.3 417.5 L41.4 417.0 L41.6 416.5 L41.8 416.0 L42.0 415.5 L42.2 415.0 L42.4 414.5 L42.6 414.0 L42.8 413.5 L43.0 413.0 L43.1 412.5 L43.3 412.0 L43.5 411.5 L43.7 411.0 L43.9 410.5 L44.1 410.0 L44.3 409.5 L44.5 409.0 L44.7 408.5 L44.9 408.0 L45.1 407.5 L45.3 407.0 L45.4 406.5 L45.6 406.0 L45.8 405.5 L46.0 405.0 L46.2 404.5 L46.4 404.0 L46.6 403.5 L46.9 403.0 L47.1 402.5 L47.4 402.0 L47.7 401.5 L48.0 401.0 L48.3 400.5 L48.6 400.0 L49.0 399.5 L49.3 399.0 L49.7 398.5 L50.1 398.0 L50.6 397.5 L51.1 397.0 L51.6 396.5 L52.2 396.0 L52.8 395.5 L53.4 395.0 L54.0 394.5 L54.7 394.0 L55.4 393.5 L56.1 393.0 L57.0 392.5 L57.8 392.0 L58.7 391.5 L59.5 391.0 L60.4 390.5 L61.3 390.0 L62.1 389.5 L63.0 389.0 Z" fill="#23902a" stroke="#2b2b2b" stroke-width="0.8" stroke-linejoin="round"/>
<line x1="71.7" y1="389.0" x2="71.7" y2="467.4" stroke="#2b2b2b" stroke-width="0.5"/>
<rect x="68.2" y="408.0" width="6.9" height="23.0" fill="#fff" stroke="#222" stroke-width="0.6"/>
<line x1="68.2" y1="422.0" x2="75.2" y2="422.0" stroke="#222" stroke-width="0.9"/>
<g fill="#1a1ec4" stroke="#0a0a78" stroke-width="0.5"><circle cx="71.7" cy="389.0" r="1.35"/><circle cx="71.7" cy="393.0" r="1.35"/><circle cx="71.7" cy="396.0" r="1.35"/><circle cx="71.7" cy="399.0" r="1.35"/><circle cx="71.7" cy="401.0" r="1.35"/><circle cx="71.7" cy="403.0" r="1.35"/><circle cx="71.7" cy="405.0" r="1.35"/><circle cx="71.7" cy="407.0" r="1.35"/><circle cx="71.7" cy="409.0" r="1.35"/><circle cx="71.7" cy="411.0" r="1.35"/><circle cx="71.7" cy="413.0" r="1.35"/><circle cx="71.7" cy="415.0" r="1.35"/><circle cx="71.7" cy="417.0" r="1.35"/><circle cx="71.7" cy="419.0" r="1.35"/><circle cx="71.7" cy="421.0" r="1.35"/><circle cx="71.7" cy="423.0" r="1.35"/><circle cx="71.7" cy="425.0" r="1.35"/><circle cx="71.7" cy="427.0" r="1.35"/><circle cx="71.7" cy="429.0" r="1.35"/><circle cx="71.7" cy="431.0" r="1.35"/><circle cx="71.7" cy="433.0" r="1.35"/><circle cx="71.7" cy="435.0" r="1.35"/><circle cx="71.7" cy="440.0" r="1.35"/><circle cx="71.7" cy="443.0" r="1.35"/><circle cx="71.7" cy="448.0" r="1.35"/><circle cx="71.7" cy="450.0" r="1.35"/><circle cx="71.7" cy="452.0" r="1.35"/><circle cx="71.7" cy="454.0" r="1.35"/><circle cx="71.7" cy="456.0" r="1.35"/><circle cx="71.7" cy="460.0" r="1.35"/><circle cx="71.7" cy="467.2" r="1.35"/></g>
<path d="M145.8 396.6 L146.2 397.1 L146.5 397.6 L146.9 398.1 L147.3 398.6 L147.6 399.1 L148.0 399.6 L148.3 400.1 L148.6 400.6 L148.9 401.1 L149.2 401.6 L149.5 402.1 L149.8 402.6 L150.1 403.1 L150.3 403.6 L150.5 404.1 L150.8 404.6 L151.0 405.1 L151.2 405.6 L151.5 406.1 L151.7 406.6 L152.0 407.1 L152.2 407.6 L152.5 408.1 L152.8 408.6 L153.0 409.1 L153.3 409.6 L153.7 410.1 L154.0 410.6 L154.3 411.1 L154.6 411.6 L154.9 412.1 L155.3 412.6 L155.6 413.1 L156.0 413.6 L156.3 414.1 L156.7 414.6 L157.0 415.1 L157.4 415.6 L157.7 416.1 L158.1 416.6 L158.5 417.1 L158.9 417.6 L159.3 418.1 L159.7 418.6 L160.1 419.1 L160.5 419.6 L160.8 420.1 L161.2 420.6 L161.5 421.1 L161.8 421.6 L162.1 422.1 L162.4 422.6 L162.7 423.1 L163.0 423.6 L163.3 424.1 L163.6 424.6 L163.8 425.1 L164.0 425.6 L164.2 426.1 L164.4 426.6 L164.6 427.1 L164.7 427.6 L164.8 428.1 L165.0 428.6 L165.1 429.1 L165.2 429.6 L165.3 430.1 L165.4 430.6 L165.4 431.1 L165.5 431.6 L165.5 432.1 L165.6 432.6 L165.6 433.1 L165.6 433.6 L165.6 434.1 L165.6 434.6 L165.5 435.1 L165.5 435.6 L165.4 436.1 L165.4 436.6 L165.3 437.1 L165.3 437.6 L165.2 438.1 L165.1 438.6 L165.0 439.1 L164.9 439.6 L164.9 440.1 L164.8 440.6 L164.6 441.1 L164.5 441.6 L164.3 442.1 L164.2 442.6 L164.0 443.1 L163.8 443.6 L163.6 444.1 L163.4 444.6 L163.2 445.1 L163.0 445.6 L162.8 446.1 L162.6 446.6 L162.3 447.1 L162.1 447.6 L161.9 448.1 L161.6 448.6 L161.4 449.1 L161.1 449.6 L160.9 450.1 L160.6 450.6 L160.3 451.1 L160.1 451.6 L159.8 452.1 L159.5 452.6 L159.3 453.1 L159.1 453.6 L158.8 454.1 L158.6 454.6 L158.4 455.1 L158.1 455.6 L157.9 456.1 L157.7 456.6 L157.4 457.1 L157.2 457.6 L157.0 458.1 L156.7 458.6 L156.5 459.1 L156.2 459.6 L156.0 460.1 L155.8 460.6 L155.5 461.1 L155.3 461.6 L155.0 462.1 L154.7 462.6 L154.5 463.1 L154.2 463.6 L154.0 464.1 L153.7 464.6 L153.5 465.1 L153.2 465.6 L153.0 466.1 L152.8 466.6 L152.5 467.1 L152.3 467.6 L152.1 468.1 L151.8 468.6 L151.6 469.1 L151.4 469.6 L151.2 470.1 L150.9 470.6 L150.7 471.1 L150.5 471.6 L150.3 472.1 L150.1 472.6 L149.9 473.1 L149.7 473.6 L149.6 474.1 L149.4 474.6 L149.2 475.1 L149.0 475.6 L148.9 476.1 L148.7 476.6 L148.6 477.1 L148.4 477.6 L148.3 478.1 L148.1 478.6 L148.0 479.1 L147.8 479.6 L147.7 480.1 L147.5 480.6 L147.4 481.1 L147.2 481.6 L147.1 482.1 L146.9 482.6 L146.7 483.1 L146.5 483.6 L146.3 484.1 L146.1 484.6 L145.9 485.1 L145.7 485.6 L145.5 486.1 L145.3 486.6 L145.2 487.1 L145.0 487.6 L144.8 488.1 L144.7 488.6 L144.5 489.1 L144.4 489.6 L144.3 490.1 L144.1 490.6 L144.0 491.1 L143.9 491.6 L143.8 492.1 L143.7 492.6 L143.5 493.1 L143.4 493.6 L143.4 494.1 L143.3 494.6 L143.2 495.1 L143.1 495.6 L143.0 496.1 L142.9 496.6 L142.9 497.1 L142.8 497.6 L142.7 498.1 L142.7 498.6 L142.7 499.1 L142.6 499.6 L142.6 500.1 L142.6 500.6 L142.5 501.1 L142.5 501.6 L142.5 502.1 L142.5 502.6 L142.4 503.1 L142.4 503.6 L142.4 504.1 L142.4 504.6 L142.3 505.1 L142.3 505.6 L142.3 506.1 L142.3 506.6 L142.3 507.1 L142.3 507.6 L142.3 508.1 L142.3 508.6 L142.3 509.1 L142.3 509.6 L142.3 510.1 L142.3 510.6 L142.2 511.1 L142.2 511.6 L142.2 512.1 L142.2 512.6 L142.2 513.1 L142.2 513.6 L142.2 514.1 L142.2 514.6 L142.2 515.1 L142.1 515.6 L142.1 516.1 L142.1 516.6 L141.9 517.1 L141.5 517.6 L140.9 518.0 L139.7 518.0 L139.1 517.6 L138.7 517.1 L138.5 516.6 L138.5 516.1 L138.5 515.6 L138.4 515.1 L138.4 514.6 L138.4 514.1 L138.4 513.6 L138.4 513.1 L138.4 512.6 L138.4 512.1 L138.4 511.6 L138.4 511.1 L138.3 510.6 L138.3 510.1 L138.3 509.6 L138.3 509.1 L138.3 508.6 L138.3 508.1 L138.3 507.6 L138.3 507.1 L138.3 506.6 L138.3 506.1 L138.3 505.6 L138.3 505.1 L138.2 504.6 L138.2 504.1 L138.2 503.6 L138.2 503.1 L138.1 502.6 L138.1 502.1 L138.1 501.6 L138.1 501.1 L138.0 500.6 L138.0 500.1 L138.0 499.6 L137.9 499.1 L137.9 498.6 L137.9 498.1 L137.8 497.6 L137.7 497.1 L137.7 496.6 L137.6 496.1 L137.5 495.6 L137.4 495.1 L137.3 494.6 L137.2 494.1 L137.2 493.6 L137.1 493.1 L136.9 492.6 L136.8 492.1 L136.7 491.6 L136.6 491.1 L136.5 490.6 L136.3 490.1 L136.2 489.6 L136.1 489.1 L135.9 488.6 L135.8 488.1 L135.6 487.6 L135.4 487.1 L135.3 486.6 L135.1 486.1 L134.9 485.6 L134.7 485.1 L134.5 484.6 L134.3 484.1 L134.1 483.6 L133.9 483.1 L133.7 482.6 L133.5 482.1 L133.4 481.6 L133.2 481.1 L133.1 480.6 L132.9 480.1 L132.8 479.6 L132.6 479.1 L132.5 478.6 L132.3 478.1 L132.2 477.6 L132.0 477.1 L131.9 476.6 L131.7 476.1 L131.6 475.6 L131.4 475.1 L131.2 474.6 L131.0 474.1 L130.9 473.6 L130.7 473.1 L130.5 472.6 L130.3 472.1 L130.1 471.6 L129.9 471.1 L129.7 470.6 L129.4 470.1 L129.2 469.6 L129.0 469.1 L128.8 468.6 L128.5 468.1 L128.3 467.6 L128.1 467.1 L127.8 466.6 L127.6 466.1 L127.4 465.6 L127.1 465.1 L126.9 464.6 L126.6 464.1 L126.4 463.6 L126.1 463.1 L125.9 462.6 L125.6 462.1 L125.3 461.6 L125.1 461.1 L124.8 460.6 L124.6 460.1 L124.4 459.6 L124.1 459.1 L123.9 458.6 L123.6 458.1 L123.4 457.6 L123.2 457.1 L122.9 456.6 L122.7 456.1 L122.5 455.6 L122.2 455.1 L122.0 454.6 L121.8 454.1 L121.5 453.6 L121.3 453.1 L121.1 452.6 L120.8 452.1 L120.5 451.6 L120.3 451.1 L120.0 450.6 L119.7 450.1 L119.5 449.6 L119.2 449.1 L119.0 448.6 L118.7 448.1 L118.5 447.6 L118.3 447.1 L118.0 446.6 L117.8 446.1 L117.6 445.6 L117.4 445.1 L117.2 444.6 L117.0 444.1 L116.8 443.6 L116.6 443.1 L116.4 442.6 L116.3 442.1 L116.1 441.6 L116.0 441.1 L115.8 440.6 L115.7 440.1 L115.7 439.6 L115.6 439.1 L115.5 438.6 L115.4 438.1 L115.3 437.6 L115.3 437.1 L115.2 436.6 L115.2 436.1 L115.1 435.6 L115.1 435.1 L115.0 434.6 L115.0 434.1 L115.0 433.6 L115.0 433.1 L115.0 432.6 L115.1 432.1 L115.1 431.6 L115.2 431.1 L115.2 430.6 L115.3 430.1 L115.4 429.6 L115.5 429.1 L115.6 428.6 L115.8 428.1 L115.9 427.6 L116.0 427.1 L116.2 426.6 L116.4 426.1 L116.6 425.6 L116.8 425.1 L117.0 424.6 L117.3 424.1 L117.6 423.6 L117.9 423.1 L118.2 422.6 L118.5 422.1 L118.8 421.6 L119.1 421.1 L119.4 420.6 L119.8 420.1 L120.1 419.6 L120.5 419.1 L120.9 418.6 L121.3 418.1 L121.7 417.6 L122.1 417.1 L122.5 416.6 L122.9 416.1 L123.2 415.6 L123.6 415.1 L123.9 414.6 L124.3 414.1 L124.6 413.6 L125.0 413.1 L125.3 412.6 L125.7 412.1 L126.0 411.6 L126.3 411.1 L126.6 410.6 L126.9 410.1 L127.3 409.6 L127.6 409.1 L127.8 408.6 L128.1 408.1 L128.4 407.6 L128.6 407.1 L128.9 406.6 L129.1 406.1 L129.4 405.6 L129.6 405.1 L129.8 404.6 L130.1 404.1 L130.3 403.6 L130.5 403.1 L130.8 402.6 L131.1 402.1 L131.4 401.6 L131.7 401.1 L132.0 400.6 L132.3 400.1 L132.6 399.6 L133.0 399.1 L133.3 398.6 L133.7 398.1 L134.1 397.6 L134.4 397.1 L134.8 396.6 Z" fill="#23902a" stroke="#2b2b2b" stroke-width="0.8" stroke-linejoin="round"/>
<line x1="140.3" y1="396.6" x2="140.3" y2="518.0" stroke="#2b2b2b" stroke-width="0.5"/>
<rect x="136.9" y="425.5" width="6.9" height="28.9" fill="#fff" stroke="#222" stroke-width="0.6"/>
<line x1="136.9" y1="436.6" x2="143.8" y2="436.6" stroke="#222" stroke-width="0.9"/>
<g fill="#1a1ec4" stroke="#0a0a78" stroke-width="0.5"><circle cx="140.3" cy="396.8" r="1.35"/><circle cx="140.3" cy="405.2" r="1.35"/><circle cx="140.3" cy="407.7" r="1.35"/><circle cx="140.3" cy="410.2" r="1.35"/><circle cx="140.3" cy="418.4" r="1.35"/><circle cx="140.3" cy="421.7" r="1.35"/><circle cx="140.3" cy="424.2" r="1.35"/><circle cx="140.3" cy="427.5" r="1.35"/><circle cx="140.3" cy="431.3" r="1.35"/><circle cx="140.3" cy="433.5" r="1.35"/><circle cx="140.3" cy="435.2" r="1.35"/><circle cx="140.3" cy="437.2" r="1.35"/><circle cx="140.3" cy="439.0" r="1.35"/><circle cx="140.3" cy="441.5" r="1.35"/><circle cx="140.3" cy="443.5" r="1.35"/><circle cx="140.3" cy="445.6" r="1.35"/><circle cx="140.3" cy="448.9" r="1.35"/><circle cx="140.3" cy="451.5" r="1.35"/><circle cx="140.3" cy="453.9" r="1.35"/><circle cx="140.3" cy="467.0" r="1.35"/><circle cx="140.3" cy="469.0" r="1.35"/><circle cx="140.3" cy="471.0" r="1.35"/><circle cx="140.3" cy="474.0" r="1.35"/><circle cx="140.3" cy="477.0" r="1.35"/><circle cx="140.3" cy="490.5" r="1.35"/><circle cx="140.3" cy="515.5" r="1.35"/></g>
<path d="M272.3 31.8 L273.1 32.3 L273.8 32.8 L274.5 33.3 L275.0 33.8 L275.5 34.3 L276.0 34.8 L276.3 35.3 L276.6 35.8 L276.9 36.3 L277.1 36.8 L277.3 37.3 L277.5 37.8 L277.7 38.3 L277.9 38.8 L278.0 39.3 L278.2 39.8 L278.3 40.3 L278.4 40.8 L278.6 41.3 L278.7 41.8 L278.8 42.3 L279.0 42.8 L279.1 43.3 L279.2 43.8 L279.4 44.3 L279.5 44.8 L279.6 45.3 L279.7 45.8 L279.8 46.3 L279.9 46.8 L280.0 47.3 L280.2 47.8 L280.3 48.3 L280.5 48.8 L280.7 49.3 L280.9 49.8 L281.2 50.3 L281.5 50.8 L281.8 51.3 L282.1 51.8 L282.4 52.3 L282.8 52.8 L283.2 53.3 L283.5 53.8 L283.8 54.3 L284.2 54.8 L284.6 55.3 L285.0 55.8 L285.4 56.3 L285.8 56.8 L286.2 57.3 L286.5 57.8 L286.8 58.3 L287.1 58.8 L287.3 59.3 L287.5 59.8 L287.7 60.3 L287.9 60.8 L288.1 61.3 L288.2 61.8 L288.2 62.3 L288.3 62.8 L288.4 63.3 L288.4 63.8 L288.4 64.3 L288.3 64.8 L288.2 65.3 L288.1 65.8 L288.0 66.3 L287.8 66.8 L287.6 67.3 L287.4 67.8 L287.1 68.3 L286.8 68.8 L286.4 69.3 L286.0 69.8 L285.6 70.3 L285.1 70.8 L284.7 71.3 L284.2 71.8 L283.7 72.3 L283.2 72.8 L282.8 73.3 L282.3 73.8 L281.8 74.3 L281.4 74.8 L280.9 75.3 L280.4 75.8 L279.9 76.3 L279.4 76.8 L278.9 77.3 L278.4 77.8 L278.0 78.3 L277.5 78.8 L277.1 79.3 L276.6 79.8 L276.2 80.3 L275.8 80.8 L275.4 81.3 L275.0 81.8 L274.6 82.3 L274.2 82.8 L273.8 83.3 L273.4 83.8 L273.0 84.3 L272.7 84.8 L272.3 85.3 L272.0 85.8 L271.6 86.3 L271.3 86.8 L271.0 87.3 L270.7 87.8 L270.3 88.3 L270.0 88.8 L269.7 89.3 L269.5 89.8 L269.2 90.3 L268.9 90.8 L268.7 91.3 L268.4 91.8 L268.2 92.3 L267.9 92.8 L267.6 93.3 L267.3 93.8 L267.1 94.3 L266.8 94.8 L266.5 95.3 L266.2 95.8 L265.9 96.3 L265.6 96.8 L265.3 97.3 L265.0 97.8 L264.7 98.3 L264.5 98.8 L264.3 99.3 L264.1 99.8 L263.9 100.3 L263.7 100.8 L263.5 101.3 L263.3 101.8 L263.1 102.3 L262.9 102.8 L262.7 103.3 L262.5 103.8 L262.3 104.3 L262.1 104.8 L261.9 105.3 L261.7 105.8 L261.5 106.3 L261.3 106.8 L261.1 107.3 L261.0 107.8 L260.8 108.3 L260.6 108.8 L260.4 109.3 L260.2 109.8 L260.1 110.3 L260.0 110.8 L259.9 111.3 L259.9 111.8 L259.9 112.3 L259.8 112.8 L259.8 113.3 L259.8 113.8 L259.8 114.3 L259.8 114.8 L259.8 115.3 L259.8 115.8 L259.8 116.3 L259.9 116.8 L260.0 117.3 L260.1 117.8 L260.2 118.3 L260.3 118.8 L260.4 119.3 L260.5 119.8 L260.6 120.3 L260.7 120.8 L260.8 121.3 L260.9 121.8 L261.0 122.3 L261.0 122.8 L261.1 123.3 L261.1 123.8 L261.1 124.3 L261.1 124.8 L261.1 125.3 L261.0 125.8 L260.8 126.3 L260.2 126.8 L260.1 126.9 L255.3 126.9 L255.2 126.8 L254.6 126.3 L254.4 125.8 L254.3 125.3 L254.3 124.8 L254.3 124.3 L254.3 123.8 L254.3 123.3 L254.4 122.8 L254.4 122.3 L254.5 121.8 L254.6 121.3 L254.7 120.8 L254.8 120.3 L254.9 119.8 L255.0 119.3 L255.1 118.8 L255.2 118.3 L255.3 117.8 L255.4 117.3 L255.5 116.8 L255.6 116.3 L255.6 115.8 L255.6 115.3 L255.6 114.8 L255.6 114.3 L255.6 113.8 L255.6 113.3 L255.6 112.8 L255.5 112.3 L255.5 111.8 L255.5 111.3 L255.4 110.8 L255.3 110.3 L255.2 109.8 L255.0 109.3 L254.8 108.8 L254.6 108.3 L254.4 107.8 L254.3 107.3 L254.1 106.8 L253.9 106.3 L253.7 105.8 L253.5 105.3 L253.3 104.8 L253.1 104.3 L252.9 103.8 L252.7 103.3 L252.5 102.8 L252.3 102.3 L252.1 101.8 L251.9 101.3 L251.7 100.8 L251.5 100.3 L251.3 99.8 L251.1 99.3 L250.9 98.8 L250.7 98.3 L250.4 97.8 L250.1 97.3 L249.8 96.8 L249.5 96.3 L249.2 95.8 L248.9 95.3 L248.6 94.8 L248.3 94.3 L248.1 93.8 L247.8 93.3 L247.5 92.8 L247.2 92.3 L247.0 91.8 L246.7 91.3 L246.5 90.8 L246.2 90.3 L245.9 89.8 L245.7 89.3 L245.4 88.8 L245.1 88.3 L244.7 87.8 L244.4 87.3 L244.1 86.8 L243.8 86.3 L243.4 85.8 L243.1 85.3 L242.7 84.8 L242.4 84.3 L242.0 83.8 L241.6 83.3 L241.2 82.8 L240.8 82.3 L240.4 81.8 L240.0 81.3 L239.6 80.8 L239.2 80.3 L238.8 79.8 L238.3 79.3 L237.9 78.8 L237.4 78.3 L237.0 77.8 L236.5 77.3 L236.0 76.8 L235.5 76.3 L235.0 75.8 L234.5 75.3 L234.0 74.8 L233.6 74.3 L233.1 73.8 L232.6 73.3 L232.2 72.8 L231.7 72.3 L231.2 71.8 L230.7 71.3 L230.3 70.8 L229.8 70.3 L229.4 69.8 L229.0 69.3 L228.6 68.8 L228.3 68.3 L228.0 67.8 L227.8 67.3 L227.6 66.8 L227.4 66.3 L227.3 65.8 L227.2 65.3 L227.1 64.8 L227.0 64.3 L227.0 63.8 L227.0 63.3 L227.1 62.8 L227.2 62.3 L227.2 61.8 L227.3 61.3 L227.5 60.8 L227.7 60.3 L227.9 59.8 L228.1 59.3 L228.3 58.8 L228.6 58.3 L228.9 57.8 L229.2 57.3 L229.6 56.8 L230.0 56.3 L230.4 55.8 L230.8 55.3 L231.2 54.8 L231.6 54.3 L231.9 53.8 L232.2 53.3 L232.6 52.8 L233.0 52.3 L233.3 51.8 L233.6 51.3 L233.9 50.8 L234.2 50.3 L234.5 49.8 L234.7 49.3 L234.9 48.8 L235.1 48.3 L235.2 47.8 L235.4 47.3 L235.5 46.8 L235.6 46.3 L235.7 45.8 L235.8 45.3 L235.9 44.8 L236.0 44.3 L236.2 43.8 L236.3 43.3 L236.4 42.8 L236.6 42.3 L236.7 41.8 L236.8 41.3 L237.0 40.8 L237.1 40.3 L237.2 39.8 L237.4 39.3 L237.5 38.8 L237.7 38.3 L237.9 37.8 L238.1 37.3 L238.3 36.8 L238.5 36.3 L238.8 35.8 L239.1 35.3 L239.4 34.8 L239.9 34.3 L240.4 33.8 L240.9 33.3 L241.6 32.8 L242.3 32.3 L243.1 31.8 Z" fill="#23902a" stroke="#2b2b2b" stroke-width="0.8" stroke-linejoin="round"/>
<line x1="257.7" y1="31.8" x2="257.7" y2="126.9" stroke="#2b2b2b" stroke-width="0.5"/>
<rect x="254.2" y="48.0" width="6.9" height="24.0" fill="#fff" stroke="#222" stroke-width="0.6"/>
<line x1="254.2" y1="64.5" x2="261.1" y2="64.5" stroke="#222" stroke-width="0.9"/>
<g fill="#1a1ec4" stroke="#0a0a78" stroke-width="0.5"><circle cx="257.7" cy="32.0" r="1.35"/><circle cx="257.7" cy="34.3" r="1.35"/><circle cx="257.7" cy="36.7" r="1.35"/><circle cx="257.7" cy="39.2" r="1.35"/><circle cx="257.7" cy="42.5" r="1.35"/><circle cx="257.7" cy="45.8" r="1.35"/><circle cx="257.7" cy="50.8" r="1.35"/><circle cx="257.7" cy="55.7" r="1.35"/><circle cx="257.7" cy="59.0" r="1.35"/><circle cx="257.7" cy="61.5" r="1.35"/><circle cx="257.7" cy="64.0" r="1.35"/><circle cx="257.7" cy="66.4" r="1.35"/><circle cx="257.7" cy="68.9" r="1.35"/><circle cx="257.7" cy="73.9" r="1.35"/><circle cx="257.7" cy="79.6" r="1.35"/><circle cx="257.7" cy="83.0" r="1.35"/><circle cx="257.7" cy="87.9" r="1.35"/><circle cx="257.7" cy="89.5" r="1.35"/><circle cx="257.7" cy="93.7" r="1.35"/><circle cx="257.7" cy="125.4" r="1.35"/></g>
<path d="M328.2 22.1 L328.4 22.6 L328.6 23.1 L328.8 23.6 L329.0 24.1 L329.2 24.6 L329.3 25.1 L329.5 25.6 L329.7 26.1 L329.9 26.6 L330.0 27.1 L330.2 27.6 L330.4 28.1 L330.5 28.6 L330.7 29.1 L330.8 29.6 L330.9 30.1 L331.1 30.6 L331.2 31.1 L331.3 31.6 L331.5 32.1 L331.6 32.6 L331.7 33.1 L331.9 33.6 L332.1 34.1 L332.2 34.6 L332.4 35.1 L332.6 35.6 L332.8 36.1 L333.0 36.6 L333.2 37.1 L333.5 37.6 L333.7 38.1 L333.9 38.6 L334.2 39.1 L334.5 39.6 L334.7 40.1 L335.0 40.6 L335.3 41.1 L335.6 41.6 L336.0 42.1 L336.3 42.6 L336.6 43.1 L337.0 43.6 L337.3 44.1 L337.6 44.6 L338.0 45.1 L338.3 45.6 L338.7 46.1 L339.0 46.6 L339.4 47.1 L339.8 47.6 L340.1 48.1 L340.5 48.6 L340.9 49.1 L341.3 49.6 L341.6 50.1 L342.0 50.6 L342.5 51.1 L342.9 51.6 L343.3 52.1 L343.7 52.6 L344.1 53.1 L344.4 53.6 L344.8 54.1 L345.1 54.6 L345.4 55.1 L345.7 55.6 L345.9 56.1 L346.2 56.6 L346.5 57.1 L346.7 57.6 L346.9 58.1 L347.1 58.6 L347.3 59.1 L347.5 59.6 L347.7 60.1 L347.8 60.6 L348.0 61.1 L348.2 61.6 L348.3 62.1 L348.4 62.6 L348.5 63.1 L348.6 63.6 L348.7 64.1 L348.7 64.6 L348.8 65.1 L348.8 65.6 L348.9 66.1 L348.9 66.6 L349.0 67.1 L349.0 67.6 L349.0 68.1 L349.0 68.6 L349.1 69.1 L349.1 69.6 L349.1 70.1 L349.1 70.6 L349.1 71.1 L349.1 71.6 L349.1 72.1 L349.1 72.6 L349.0 73.1 L349.0 73.6 L349.0 74.1 L348.9 74.6 L348.9 75.1 L348.9 75.6 L348.8 76.1 L348.8 76.6 L348.7 77.1 L348.7 77.6 L348.6 78.1 L348.6 78.6 L348.5 79.1 L348.4 79.6 L348.3 80.1 L348.2 80.6 L348.1 81.1 L348.0 81.6 L347.9 82.1 L347.8 82.6 L347.6 83.1 L347.5 83.6 L347.4 84.1 L347.2 84.6 L347.1 85.1 L346.9 85.6 L346.7 86.1 L346.5 86.6 L346.3 87.1 L346.1 87.6 L345.9 88.1 L345.7 88.6 L345.5 89.1 L345.3 89.6 L345.1 90.1 L344.9 90.6 L344.7 91.1 L344.5 91.6 L344.4 92.1 L344.2 92.6 L344.0 93.1 L343.8 93.6 L343.7 94.1 L343.5 94.6 L343.3 95.1 L343.1 95.6 L342.9 96.1 L342.7 96.6 L342.5 97.1 L342.3 97.6 L342.1 98.1 L341.9 98.6 L341.7 99.1 L341.5 99.6 L341.3 100.1 L341.0 100.6 L340.8 101.1 L340.5 101.6 L340.3 102.1 L340.1 102.6 L339.8 103.1 L339.5 103.6 L339.3 104.1 L339.0 104.6 L338.7 105.1 L338.4 105.6 L338.1 106.1 L337.8 106.6 L337.5 107.1 L337.2 107.6 L336.9 108.1 L336.6 108.6 L336.3 109.1 L336.0 109.6 L335.7 110.1 L335.4 110.6 L335.0 111.1 L334.7 111.6 L334.3 112.1 L334.1 112.4 L314.5 112.4 L314.3 112.1 L313.9 111.6 L313.6 111.1 L313.2 110.6 L312.9 110.1 L312.6 109.6 L312.3 109.1 L312.0 108.6 L311.7 108.1 L311.4 107.6 L311.1 107.1 L310.8 106.6 L310.5 106.1 L310.2 105.6 L309.9 105.1 L309.6 104.6 L309.3 104.1 L309.1 103.6 L308.8 103.1 L308.5 102.6 L308.3 102.1 L308.1 101.6 L307.8 101.1 L307.6 100.6 L307.3 100.1 L307.1 99.6 L306.9 99.1 L306.7 98.6 L306.5 98.1 L306.3 97.6 L306.1 97.1 L305.9 96.6 L305.7 96.1 L305.5 95.6 L305.3 95.1 L305.1 94.6 L304.9 94.1 L304.8 93.6 L304.6 93.1 L304.4 92.6 L304.2 92.1 L304.1 91.6 L303.9 91.1 L303.7 90.6 L303.5 90.1 L303.3 89.6 L303.1 89.1 L302.9 88.6 L302.7 88.1 L302.5 87.6 L302.3 87.1 L302.1 86.6 L301.9 86.1 L301.7 85.6 L301.5 85.1 L301.4 84.6 L301.2 84.1 L301.1 83.6 L301.0 83.1 L300.8 82.6 L300.7 82.1 L300.6 81.6 L300.5 81.1 L300.4 80.6 L300.3 80.1 L300.2 79.6 L300.1 79.1 L300.0 78.6 L300.0 78.1 L299.9 77.6 L299.9 77.1 L299.8 76.6 L299.8 76.1 L299.7 75.6 L299.7 75.1 L299.7 74.6 L299.6 74.1 L299.6 73.6 L299.6 73.1 L299.5 72.6 L299.5 72.1 L299.5 71.6 L299.5 71.1 L299.5 70.6 L299.5 70.1 L299.5 69.6 L299.5 69.1 L299.6 68.6 L299.6 68.1 L299.6 67.6 L299.6 67.1 L299.7 66.6 L299.7 66.1 L299.8 65.6 L299.8 65.1 L299.9 64.6 L299.9 64.1 L300.0 63.6 L300.1 63.1 L300.2 62.6 L300.3 62.1 L300.4 61.6 L300.6 61.1 L300.8 60.6 L300.9 60.1 L301.1 59.6 L301.3 59.1 L301.5 58.6 L301.7 58.1 L301.9 57.6 L302.1 57.1 L302.4 56.6 L302.7 56.1 L302.9 55.6 L303.2 55.1 L303.5 54.6 L303.8 54.1 L304.2 53.6 L304.5 53.1 L304.9 52.6 L305.3 52.1 L305.7 51.6 L306.1 51.1 L306.6 50.6 L307.0 50.1 L307.3 49.6 L307.7 49.1 L308.1 48.6 L308.5 48.1 L308.8 47.6 L309.2 47.1 L309.6 46.6 L309.9 46.1 L310.3 45.6 L310.6 45.1 L311.0 44.6 L311.3 44.1 L311.6 43.6 L312.0 43.1 L312.3 42.6 L312.6 42.1 L313.0 41.6 L313.3 41.1 L313.6 40.6 L313.9 40.1 L314.1 39.6 L314.4 39.1 L314.7 38.6 L314.9 38.1 L315.1 37.6 L315.4 37.1 L315.6 36.6 L315.8 36.1 L316.0 35.6 L316.2 35.1 L316.4 34.6 L316.5 34.1 L316.7 33.6 L316.9 33.1 L317.0 32.6 L317.1 32.1 L317.3 31.6 L317.4 31.1 L317.5 30.6 L317.7 30.1 L317.8 29.6 L317.9 29.1 L318.1 28.6 L318.2 28.1 L318.4 27.6 L318.6 27.1 L318.7 26.6 L318.9 26.1 L319.1 25.6 L319.3 25.1 L319.4 24.6 L319.6 24.1 L319.8 23.6 L320.0 23.1 L320.2 22.6 L320.4 22.1 Z" fill="#23902a" stroke="#2b2b2b" stroke-width="0.8" stroke-linejoin="round"/>
<line x1="324.3" y1="22.1" x2="324.3" y2="112.4" stroke="#2b2b2b" stroke-width="0.5"/>
<rect x="320.9" y="61.5" width="6.9" height="30.5" fill="#fff" stroke="#222" stroke-width="0.6"/>
<line x1="320.9" y1="75.0" x2="327.8" y2="75.0" stroke="#222" stroke-width="0.9"/>
<g fill="#1a1ec4" stroke="#0a0a78" stroke-width="0.5"><circle cx="324.3" cy="22.3" r="1.35"/><circle cx="324.3" cy="39.5" r="1.35"/><circle cx="324.3" cy="44.5" r="1.35"/><circle cx="324.3" cy="58.0" r="1.35"/><circle cx="324.3" cy="62.0" r="1.35"/><circle cx="324.3" cy="64.0" r="1.35"/><circle cx="324.3" cy="67.0" r="1.35"/><circle cx="324.3" cy="75.0" r="1.35"/><circle cx="324.3" cy="77.0" r="1.35"/><circle cx="324.3" cy="80.0" r="1.35"/><circle cx="324.3" cy="90.0" r="1.35"/><circle cx="324.3" cy="92.0" r="1.35"/><circle cx="324.3" cy="94.0" r="1.35"/><circle cx="324.3" cy="105.5" r="1.35"/><circle cx="324.3" cy="112.0" r="1.35"/></g>
<path d="M397.2 16.0 L397.3 16.5 L397.4 17.0 L397.4 17.5 L397.5 18.0 L397.6 18.5 L397.7 19.0 L397.8 19.5 L397.9 20.0 L398.0 20.5 L398.1 21.0 L398.2 21.5 L398.2 22.0 L398.3 22.5 L398.4 23.0 L398.5 23.5 L398.6 24.0 L398.7 24.5 L398.8 25.0 L398.9 25.5 L399.0 26.0 L399.1 26.5 L399.2 27.0 L399.3 27.5 L399.4 28.0 L399.5 28.5 L399.6 29.0 L399.7 29.5 L399.8 30.0 L399.9 30.5 L400.0 31.0 L400.1 31.5 L400.2 32.0 L400.4 32.5 L400.5 33.0 L400.6 33.5 L400.7 34.0 L400.8 34.5 L400.9 35.0 L401.0 35.5 L401.1 36.0 L401.3 36.5 L401.4 37.0 L401.5 37.5 L401.6 38.0 L401.7 38.5 L401.8 39.0 L401.9 39.5 L402.1 40.0 L402.2 40.5 L402.3 41.0 L402.4 41.5 L402.5 42.0 L402.6 42.5 L402.7 43.0 L402.9 43.5 L403.0 44.0 L403.1 44.5 L403.2 45.0 L403.3 45.5 L403.5 46.0 L403.6 46.5 L403.7 47.0 L403.9 47.5 L404.0 48.0 L404.1 48.5 L404.3 49.0 L404.4 49.5 L404.6 50.0 L404.8 50.5 L404.9 51.0 L405.1 51.5 L405.3 52.0 L405.5 52.5 L405.6 53.0 L405.8 53.5 L406.0 54.0 L406.2 54.5 L406.4 55.0 L406.6 55.5 L406.7 56.0 L406.9 56.5 L407.1 57.0 L407.3 57.5 L407.4 58.0 L407.6 58.5 L407.7 59.0 L407.9 59.5 L408.0 60.0 L408.1 60.5 L408.3 61.0 L408.4 61.5 L408.6 62.0 L408.7 62.5 L408.8 63.0 L409.0 63.5 L409.1 64.0 L409.2 64.5 L409.3 65.0 L409.4 65.5 L409.5 66.0 L409.6 66.5 L409.7 67.0 L409.8 67.5 L409.9 68.0 L409.9 68.5 L410.0 69.0 L410.1 69.5 L410.2 70.0 L410.2 70.5 L410.3 71.0 L410.4 71.5 L410.4 72.0 L410.5 72.5 L410.5 73.0 L410.6 73.5 L410.6 74.0 L410.6 74.5 L410.6 75.0 L410.6 75.5 L410.6 76.0 L410.6 76.5 L410.6 77.0 L410.5 77.5 L410.5 78.0 L410.5 78.5 L410.4 79.0 L410.4 79.5 L410.4 80.0 L410.3 80.5 L410.3 81.0 L410.2 81.5 L410.2 82.0 L410.1 82.5 L410.1 83.0 L410.0 83.5 L410.0 84.0 L409.9 84.5 L409.8 85.0 L409.8 85.5 L409.7 86.0 L409.6 86.5 L409.5 87.0 L409.4 87.5 L409.3 88.0 L409.2 88.5 L409.1 89.0 L409.0 89.5 L408.9 90.0 L408.8 90.5 L408.7 91.0 L408.6 91.5 L408.5 92.0 L408.4 92.5 L408.3 93.0 L408.2 93.5 L408.0 94.0 L407.9 94.5 L407.8 95.0 L407.7 95.5 L407.6 96.0 L407.4 96.5 L407.3 97.0 L407.1 97.5 L407.0 98.0 L406.8 98.5 L406.7 99.0 L406.5 99.5 L406.3 100.0 L406.2 100.5 L406.0 101.0 L405.8 101.5 L405.7 102.0 L405.5 102.5 L405.3 103.0 L405.1 103.5 L404.9 104.0 L404.7 104.5 L404.5 105.0 L404.3 105.5 L404.0 106.0 L403.7 106.5 L403.4 107.0 L403.1 107.5 L402.8 108.0 L402.5 108.5 L402.3 109.0 L402.1 109.5 L401.9 110.0 L401.7 110.5 L401.4 111.0 L401.2 111.5 L401.0 112.0 L400.7 112.5 L400.4 113.0 L400.2 113.5 L399.9 114.0 L399.6 114.5 L399.4 115.0 L399.1 115.5 L398.9 116.0 L398.7 116.5 L398.4 117.0 L398.2 117.5 L398.0 118.0 L397.8 118.5 L397.6 119.0 L397.4 119.5 L397.2 120.0 L397.0 120.5 L396.8 121.0 L396.6 121.5 L396.4 122.0 L396.2 122.5 L396.0 123.0 L395.8 123.5 L395.5 124.0 L395.3 124.5 L395.2 125.0 L395.0 125.5 L394.9 126.0 L394.7 126.5 L394.6 127.0 L394.5 127.5 L394.4 128.0 L394.3 128.5 L394.2 129.0 L394.2 129.5 L394.1 130.0 L394.0 130.5 L393.9 131.0 L393.8 131.5 L393.7 132.0 L393.6 132.5 L393.6 133.0 L393.5 133.5 L393.4 134.0 L393.4 134.5 L393.3 135.0 L393.3 135.5 L393.2 136.0 L393.2 136.5 L393.1 137.0 L393.1 137.5 L393.0 138.0 L393.0 138.5 L393.0 139.0 L392.9 139.5 L392.9 140.0 L392.9 140.5 L392.9 141.0 L392.8 141.5 L392.8 142.0 L392.8 142.5 L392.8 143.0 L392.8 143.5 L392.8 144.0 L392.8 144.5 L392.7 145.0 L392.7 145.5 L392.7 146.0 L392.7 146.5 L392.7 147.0 L392.7 147.5 L392.7 148.0 L392.7 148.5 L392.7 149.0 L392.7 149.5 L392.7 150.0 L392.7 150.5 L392.6 151.0 L392.6 151.5 L392.6 152.0 L392.6 152.5 L392.4 153.0 L392.2 153.5 L391.6 154.0 L390.4 154.0 L389.8 153.5 L389.6 153.0 L389.4 152.5 L389.4 152.0 L389.4 151.5 L389.4 151.0 L389.3 150.5 L389.3 150.0 L389.3 149.5 L389.3 149.0 L389.3 148.5 L389.3 148.0 L389.3 147.5 L389.3 147.0 L389.3 146.5 L389.3 146.0 L389.3 145.5 L389.3 145.0 L389.2 144.5 L389.2 144.0 L389.2 143.5 L389.2 143.0 L389.2 142.5 L389.2 142.0 L389.2 141.5 L389.1 141.0 L389.1 140.5 L389.1 140.0 L389.1 139.5 L389.0 139.0 L389.0 138.5 L389.0 138.0 L388.9 137.5 L388.9 137.0 L388.8 136.5 L388.8 136.0 L388.7 135.5 L388.7 135.0 L388.6 134.5 L388.6 134.0 L388.5 133.5 L388.4 133.0 L388.4 132.5 L388.3 132.0 L388.2 131.5 L388.1 131.0 L388.0 130.5 L387.9 130.0 L387.8 129.5 L387.8 129.0 L387.7 128.5 L387.6 128.0 L387.5 127.5 L387.4 127.0 L387.3 126.5 L387.1 126.0 L387.0 125.5 L386.8 125.0 L386.7 124.5 L386.5 124.0 L386.2 123.5 L386.0 123.0 L385.8 122.5 L385.6 122.0 L385.4 121.5 L385.2 121.0 L385.0 120.5 L384.8 120.0 L384.6 119.5 L384.4 119.0 L384.2 118.5 L384.0 118.0 L383.8 117.5 L383.6 117.0 L383.3 116.5 L383.1 116.0 L382.9 115.5 L382.6 115.0 L382.4 114.5 L382.1 114.0 L381.8 113.5 L381.6 113.0 L381.3 112.5 L381.0 112.0 L380.8 111.5 L380.6 111.0 L380.3 110.5 L380.1 110.0 L379.9 109.5 L379.7 109.0 L379.5 108.5 L379.2 108.0 L378.9 107.5 L378.6 107.0 L378.3 106.5 L378.0 106.0 L377.7 105.5 L377.5 105.0 L377.3 104.5 L377.1 104.0 L376.9 103.5 L376.7 103.0 L376.5 102.5 L376.3 102.0 L376.2 101.5 L376.0 101.0 L375.8 100.5 L375.7 100.0 L375.5 99.5 L375.3 99.0 L375.2 98.5 L375.0 98.0 L374.9 97.5 L374.7 97.0 L374.6 96.5 L374.4 96.0 L374.3 95.5 L374.2 95.0 L374.1 94.5 L374.0 94.0 L373.8 93.5 L373.7 93.0 L373.6 92.5 L373.5 92.0 L373.4 91.5 L373.3 91.0 L373.2 90.5 L373.1 90.0 L373.0 89.5 L372.9 89.0 L372.8 88.5 L372.7 88.0 L372.6 87.5 L372.5 87.0 L372.4 86.5 L372.3 86.0 L372.2 85.5 L372.2 85.0 L372.1 84.5 L372.0 84.0 L372.0 83.5 L371.9 83.0 L371.9 82.5 L371.8 82.0 L371.8 81.5 L371.7 81.0 L371.7 80.5 L371.6 80.0 L371.6 79.5 L371.6 79.0 L371.5 78.5 L371.5 78.0 L371.5 77.5 L371.4 77.0 L371.4 76.5 L371.4 76.0 L371.4 75.5 L371.4 75.0 L371.4 74.5 L371.4 74.0 L371.4 73.5 L371.5 73.0 L371.5 72.5 L371.6 72.0 L371.6 71.5 L371.7 71.0 L371.8 70.5 L371.8 70.0 L371.9 69.5 L372.0 69.0 L372.1 68.5 L372.1 68.0 L372.2 67.5 L372.3 67.0 L372.4 66.5 L372.5 66.0 L372.6 65.5 L372.7 65.0 L372.8 64.5 L372.9 64.0 L373.0 63.5 L373.2 63.0 L373.3 62.5 L373.4 62.0 L373.6 61.5 L373.7 61.0 L373.9 60.5 L374.0 60.0 L374.1 59.5 L374.3 59.0 L374.4 58.5 L374.6 58.0 L374.7 57.5 L374.9 57.0 L375.1 56.5 L375.3 56.0 L375.4 55.5 L375.6 55.0 L375.8 54.5 L376.0 54.0 L376.2 53.5 L376.4 53.0 L376.5 52.5 L376.7 52.0 L376.9 51.5 L377.1 51.0 L377.2 50.5 L377.4 50.0 L377.6 49.5 L377.7 49.0 L377.9 48.5 L378.0 48.0 L378.1 47.5 L378.3 47.0 L378.4 46.5 L378.5 46.0 L378.7 45.5 L378.8 45.0 L378.9 44.5 L379.0 44.0 L379.1 43.5 L379.3 43.0 L379.4 42.5 L379.5 42.0 L379.6 41.5 L379.7 41.0 L379.8 40.5 L379.9 40.0 L380.1 39.5 L380.2 39.0 L380.3 38.5 L380.4 38.0 L380.5 37.5 L380.6 37.0 L380.7 36.5 L380.9 36.0 L381.0 35.5 L381.1 35.0 L381.2 34.5 L381.3 34.0 L381.4 33.5 L381.5 33.0 L381.6 32.5 L381.8 32.0 L381.9 31.5 L382.0 31.0 L382.1 30.5 L382.2 30.0 L382.3 29.5 L382.4 29.0 L382.5 28.5 L382.6 28.0 L382.7 27.5 L382.8 27.0 L382.9 26.5 L383.0 26.0 L383.1 25.5 L383.2 25.0 L383.3 24.5 L383.4 24.0 L383.5 23.5 L383.6 23.0 L383.7 22.5 L383.8 22.0 L383.8 21.5 L383.9 21.0 L384.0 20.5 L384.1 20.0 L384.2 19.5 L384.3 19.0 L384.4 18.5 L384.5 18.0 L384.6 17.5 L384.6 17.0 L384.7 16.5 L384.8 16.0 Z" fill="#23902a" stroke="#2b2b2b" stroke-width="0.8" stroke-linejoin="round"/>
<line x1="391.0" y1="16.0" x2="391.0" y2="154.0" stroke="#2b2b2b" stroke-width="0.5"/>
<rect x="387.6" y="52.4" width="6.9" height="44.6" fill="#fff" stroke="#222" stroke-width="0.6"/>
<line x1="387.6" y1="76.0" x2="394.4" y2="76.0" stroke="#222" stroke-width="0.9"/>
<g fill="#1a1ec4" stroke="#0a0a78" stroke-width="0.5"><circle cx="391.0" cy="16.3" r="1.35"/><circle cx="391.0" cy="18.5" r="1.35"/><circle cx="391.0" cy="24.0" r="1.35"/><circle cx="391.0" cy="31.0" r="1.35"/><circle cx="391.0" cy="43.0" r="1.35"/><circle cx="391.0" cy="45.0" r="1.35"/><circle cx="391.0" cy="47.0" r="1.35"/><circle cx="391.0" cy="49.0" r="1.35"/><circle cx="391.0" cy="51.0" r="1.35"/><circle cx="391.0" cy="55.0" r="1.35"/><circle cx="391.0" cy="58.0" r="1.35"/><circle cx="391.0" cy="60.0" r="1.35"/><circle cx="391.0" cy="65.5" r="1.35"/><circle cx="391.0" cy="73.0" r="1.35"/><circle cx="391.0" cy="75.0" r="1.35"/><circle cx="391.0" cy="77.0" r="1.35"/><circle cx="391.0" cy="82.0" r="1.35"/><circle cx="391.0" cy="84.0" r="1.35"/><circle cx="391.0" cy="86.0" r="1.35"/><circle cx="391.0" cy="88.0" r="1.35"/><circle cx="391.0" cy="90.0" r="1.35"/><circle cx="391.0" cy="96.0" r="1.35"/><circle cx="391.0" cy="98.0" r="1.35"/><circle cx="391.0" cy="100.0" r="1.35"/><circle cx="391.0" cy="102.0" r="1.35"/><circle cx="391.0" cy="104.0" r="1.35"/><circle cx="391.0" cy="106.0" r="1.35"/><circle cx="391.0" cy="108.0" r="1.35"/><circle cx="391.0" cy="111.0" r="1.35"/><circle cx="391.0" cy="114.0" r="1.35"/><circle cx="391.0" cy="117.0" r="1.35"/><circle cx="391.0" cy="152.0" r="1.35"/></g>
<path d="M271.4 232.3 L272.4 232.8 L273.2 233.3 L273.8 233.8 L274.2 234.3 L274.6 234.8 L274.9 235.3 L275.1 235.8 L275.2 236.3 L275.3 236.8 L275.4 237.3 L275.5 237.8 L275.6 238.3 L275.6 238.8 L275.7 239.3 L275.7 239.8 L275.8 240.3 L275.8 240.8 L275.9 241.3 L275.9 241.8 L275.9 242.3 L275.9 242.8 L275.9 243.3 L275.9 243.8 L275.9 244.3 L275.9 244.8 L275.9 245.3 L275.9 245.8 L275.9 246.3 L276.0 246.8 L276.0 247.3 L276.0 247.8 L276.0 248.3 L276.0 248.8 L276.0 249.3 L276.0 249.8 L276.0 250.3 L276.0 250.8 L276.0 251.3 L276.1 251.8 L276.1 252.3 L276.2 252.8 L276.2 253.3 L276.3 253.8 L276.4 254.3 L276.5 254.8 L276.6 255.3 L276.7 255.8 L276.8 256.3 L276.9 256.8 L277.0 257.3 L277.1 257.8 L277.1 258.3 L277.2 258.8 L277.3 259.3 L277.3 259.8 L277.4 260.3 L277.5 260.8 L277.6 261.3 L277.7 261.8 L277.9 262.3 L278.2 262.8 L278.5 263.3 L278.9 263.8 L279.2 264.3 L279.5 264.8 L279.8 265.3 L280.1 265.8 L280.5 266.3 L280.8 266.8 L281.1 267.3 L281.4 267.8 L281.7 268.3 L282.0 268.8 L282.3 269.3 L282.5 269.8 L282.7 270.3 L283.0 270.8 L283.2 271.3 L283.4 271.8 L283.6 272.3 L283.8 272.8 L284.0 273.3 L284.2 273.8 L284.4 274.3 L284.5 274.8 L284.7 275.3 L284.8 275.8 L284.9 276.3 L285.0 276.8 L285.1 277.3 L285.2 277.8 L285.3 278.3 L285.4 278.8 L285.4 279.3 L285.5 279.8 L285.5 280.3 L285.5 280.8 L285.4 281.3 L285.4 281.8 L285.3 282.3 L285.2 282.8 L285.0 283.3 L284.9 283.8 L284.7 284.3 L284.5 284.8 L284.2 285.3 L283.8 285.8 L283.3 286.3 L282.8 286.8 L282.3 287.3 L281.8 287.8 L281.2 288.3 L280.6 288.8 L280.0 289.3 L279.4 289.8 L278.9 290.3 L278.3 290.8 L277.8 291.3 L277.2 291.8 L276.7 292.3 L276.1 292.8 L275.6 293.3 L275.0 293.8 L274.4 294.3 L273.8 294.8 L273.3 295.3 L272.7 295.8 L272.1 296.3 L271.5 296.8 L270.9 297.3 L270.3 297.8 L269.6 298.3 L269.0 298.8 L246.6 298.8 L246.0 298.3 L245.3 297.8 L244.7 297.3 L244.1 296.8 L243.5 296.3 L242.9 295.8 L242.3 295.3 L241.8 294.8 L241.2 294.3 L240.6 293.8 L240.0 293.3 L239.5 292.8 L238.9 292.3 L238.4 291.8 L237.8 291.3 L237.3 290.8 L236.7 290.3 L236.2 289.8 L235.6 289.3 L235.0 288.8 L234.4 288.3 L233.8 287.8 L233.3 287.3 L232.8 286.8 L232.3 286.3 L231.8 285.8 L231.4 285.3 L231.1 284.8 L230.9 284.3 L230.7 283.8 L230.6 283.3 L230.4 282.8 L230.3 282.3 L230.2 281.8 L230.2 281.3 L230.1 280.8 L230.1 280.3 L230.1 279.8 L230.2 279.3 L230.2 278.8 L230.3 278.3 L230.4 277.8 L230.5 277.3 L230.6 276.8 L230.7 276.3 L230.8 275.8 L230.9 275.3 L231.1 274.8 L231.2 274.3 L231.4 273.8 L231.6 273.3 L231.8 272.8 L232.0 272.3 L232.2 271.8 L232.4 271.3 L232.6 270.8 L232.9 270.3 L233.1 269.8 L233.3 269.3 L233.6 268.8 L233.9 268.3 L234.2 267.8 L234.5 267.3 L234.8 266.8 L235.1 266.3 L235.5 265.8 L235.8 265.3 L236.1 264.8 L236.4 264.3 L236.7 263.8 L237.1 263.3 L237.4 262.8 L237.7 262.3 L237.9 261.8 L238.0 261.3 L238.1 260.8 L238.2 260.3 L238.3 259.8 L238.3 259.3 L238.4 258.8 L238.5 258.3 L238.5 257.8 L238.6 257.3 L238.7 256.8 L238.8 256.3 L238.9 255.8 L239.0 255.3 L239.1 254.8 L239.2 254.3 L239.3 253.8 L239.4 253.3 L239.4 252.8 L239.5 252.3 L239.5 251.8 L239.6 251.3 L239.6 250.8 L239.6 250.3 L239.6 249.8 L239.6 249.3 L239.6 248.8 L239.6 248.3 L239.6 247.8 L239.6 247.3 L239.6 246.8 L239.7 246.3 L239.7 245.8 L239.7 245.3 L239.7 244.8 L239.7 244.3 L239.7 243.8 L239.7 243.3 L239.7 242.8 L239.7 242.3 L239.7 241.8 L239.7 241.3 L239.8 240.8 L239.8 240.3 L239.9 239.8 L239.9 239.3 L240.0 238.8 L240.0 238.3 L240.1 237.8 L240.2 237.3 L240.3 236.8 L240.4 236.3 L240.5 235.8 L240.7 235.3 L241.0 234.8 L241.4 234.3 L241.8 233.8 L242.4 233.3 L243.2 232.8 L244.2 232.3 Z" fill="#23902a" stroke="#2b2b2b" stroke-width="0.8" stroke-linejoin="round"/>
<line x1="257.8" y1="232.3" x2="257.8" y2="298.8" stroke="#2b2b2b" stroke-width="0.5"/>
<rect x="254.4" y="250.5" width="6.9" height="32.5" fill="#fff" stroke="#222" stroke-width="0.6"/>
<line x1="254.4" y1="267.5" x2="261.2" y2="267.5" stroke="#222" stroke-width="0.9"/>
<g fill="#1a1ec4" stroke="#0a0a78" stroke-width="0.5"><circle cx="257.8" cy="232.5" r="1.35"/><circle cx="257.8" cy="234.0" r="1.35"/><circle cx="257.8" cy="236.0" r="1.35"/><circle cx="257.8" cy="238.0" r="1.35"/><circle cx="257.8" cy="240.0" r="1.35"/><circle cx="257.8" cy="247.0" r="1.35"/><circle cx="257.8" cy="249.0" r="1.35"/><circle cx="257.8" cy="251.0" r="1.35"/><circle cx="257.8" cy="258.0" r="1.35"/><circle cx="257.8" cy="266.0" r="1.35"/><circle cx="257.8" cy="268.0" r="1.35"/><circle cx="257.8" cy="273.0" r="1.35"/><circle cx="257.8" cy="278.0" r="1.35"/><circle cx="257.8" cy="280.0" r="1.35"/><circle cx="257.8" cy="282.0" r="1.35"/><circle cx="257.8" cy="284.0" r="1.35"/><circle cx="257.8" cy="291.5" r="1.35"/><circle cx="257.8" cy="298.6" r="1.35"/></g>
<path d="M333.5 225.6 L333.8 226.1 L334.0 226.6 L334.3 227.1 L334.5 227.6 L334.8 228.1 L335.0 228.6 L335.2 229.1 L335.5 229.6 L335.7 230.1 L336.0 230.6 L336.2 231.1 L336.4 231.6 L336.6 232.1 L336.9 232.6 L337.1 233.1 L337.3 233.6 L337.6 234.1 L337.8 234.6 L338.1 235.1 L338.3 235.6 L338.5 236.1 L338.7 236.6 L339.0 237.1 L339.2 237.6 L339.4 238.1 L339.6 238.6 L339.7 239.1 L339.9 239.6 L340.0 240.1 L340.2 240.6 L340.3 241.1 L340.4 241.6 L340.5 242.1 L340.6 242.6 L340.6 243.1 L340.7 243.6 L340.8 244.1 L340.9 244.6 L340.9 245.1 L341.0 245.6 L341.1 246.1 L341.2 246.6 L341.3 247.1 L341.4 247.6 L341.5 248.1 L341.6 248.6 L341.7 249.1 L341.9 249.6 L342.0 250.1 L342.3 250.6 L342.6 251.1 L342.9 251.6 L343.3 252.1 L343.8 252.6 L344.2 253.1 L344.7 253.6 L345.2 254.1 L345.7 254.6 L346.1 255.1 L346.5 255.6 L347.0 256.1 L347.4 256.6 L347.9 257.1 L348.4 257.6 L348.9 258.1 L349.3 258.6 L349.8 259.1 L350.2 259.6 L350.6 260.1 L351.0 260.6 L351.4 261.1 L351.8 261.6 L352.2 262.1 L352.5 262.6 L352.9 263.1 L353.2 263.6 L353.5 264.1 L353.7 264.6 L353.9 265.1 L354.1 265.6 L354.3 266.1 L354.4 266.6 L354.5 267.1 L354.6 267.6 L354.6 268.1 L354.6 268.6 L354.5 269.1 L354.4 269.6 L354.3 270.1 L354.1 270.6 L354.0 271.1 L353.7 271.6 L353.4 272.1 L353.1 272.6 L352.7 273.1 L352.2 273.6 L351.8 274.1 L351.4 274.6 L351.0 275.1 L350.7 275.6 L350.3 276.1 L350.0 276.6 L349.6 277.1 L349.3 277.6 L348.9 278.1 L348.6 278.6 L348.2 279.1 L347.8 279.6 L347.4 280.1 L347.0 280.6 L346.6 281.1 L346.1 281.6 L345.6 282.1 L345.2 282.6 L344.7 283.1 L344.2 283.6 L343.7 284.1 L343.2 284.6 L342.7 285.1 L342.2 285.6 L341.7 286.1 L341.2 286.6 L340.7 287.1 L340.2 287.6 L339.7 288.1 L339.2 288.6 L338.7 289.1 L338.2 289.6 L337.8 290.1 L337.3 290.6 L336.9 291.1 L336.4 291.6 L336.0 292.1 L335.6 292.6 L335.2 293.1 L334.8 293.6 L334.4 294.1 L334.0 294.6 L333.6 295.1 L333.3 295.6 L332.9 296.1 L332.6 296.6 L332.3 297.1 L332.0 297.6 L331.7 298.1 L331.4 298.6 L331.2 299.1 L330.9 299.6 L330.7 300.1 L330.5 300.6 L330.3 301.1 L330.1 301.6 L329.9 302.1 L329.7 302.6 L329.5 303.1 L329.3 303.6 L329.2 304.1 L329.0 304.6 L328.9 305.1 L328.8 305.6 L328.7 306.1 L328.7 306.6 L328.6 307.1 L328.5 307.6 L328.5 308.1 L328.4 308.6 L328.4 309.1 L328.3 309.6 L328.3 310.1 L328.2 310.6 L328.2 311.1 L328.2 311.6 L328.1 312.1 L328.1 312.6 L328.0 313.1 L327.9 313.6 L327.7 314.0 L320.9 314.0 L320.7 313.6 L320.6 313.1 L320.5 312.6 L320.5 312.1 L320.4 311.6 L320.4 311.1 L320.4 310.6 L320.3 310.1 L320.3 309.6 L320.2 309.1 L320.2 308.6 L320.1 308.1 L320.1 307.6 L320.0 307.1 L319.9 306.6 L319.9 306.1 L319.8 305.6 L319.7 305.1 L319.6 304.6 L319.4 304.1 L319.3 303.6 L319.1 303.1 L318.9 302.6 L318.7 302.1 L318.5 301.6 L318.3 301.1 L318.1 300.6 L317.9 300.1 L317.7 299.6 L317.4 299.1 L317.2 298.6 L316.9 298.1 L316.6 297.6 L316.3 297.1 L316.0 296.6 L315.7 296.1 L315.3 295.6 L315.0 295.1 L314.6 294.6 L314.2 294.1 L313.8 293.6 L313.4 293.1 L313.0 292.6 L312.6 292.1 L312.2 291.6 L311.7 291.1 L311.3 290.6 L310.8 290.1 L310.4 289.6 L309.9 289.1 L309.4 288.6 L308.9 288.1 L308.4 287.6 L307.9 287.1 L307.4 286.6 L306.9 286.1 L306.4 285.6 L305.9 285.1 L305.4 284.6 L304.9 284.1 L304.4 283.6 L303.9 283.1 L303.4 282.6 L303.0 282.1 L302.5 281.6 L302.0 281.1 L301.6 280.6 L301.2 280.1 L300.8 279.6 L300.4 279.1 L300.0 278.6 L299.7 278.1 L299.3 277.6 L299.0 277.1 L298.6 276.6 L298.3 276.1 L297.9 275.6 L297.6 275.1 L297.2 274.6 L296.8 274.1 L296.4 273.6 L295.9 273.1 L295.5 272.6 L295.2 272.1 L294.9 271.6 L294.6 271.1 L294.5 270.6 L294.3 270.1 L294.2 269.6 L294.1 269.1 L294.0 268.6 L294.0 268.1 L294.0 267.6 L294.1 267.1 L294.2 266.6 L294.3 266.1 L294.5 265.6 L294.7 265.1 L294.9 264.6 L295.1 264.1 L295.4 263.6 L295.7 263.1 L296.1 262.6 L296.4 262.1 L296.8 261.6 L297.2 261.1 L297.6 260.6 L298.0 260.1 L298.4 259.6 L298.8 259.1 L299.3 258.6 L299.7 258.1 L300.2 257.6 L300.7 257.1 L301.2 256.6 L301.6 256.1 L302.1 255.6 L302.5 255.1 L302.9 254.6 L303.4 254.1 L303.9 253.6 L304.4 253.1 L304.8 252.6 L305.3 252.1 L305.7 251.6 L306.0 251.1 L306.3 250.6 L306.6 250.1 L306.7 249.6 L306.9 249.1 L307.0 248.6 L307.1 248.1 L307.2 247.6 L307.3 247.1 L307.4 246.6 L307.5 246.1 L307.6 245.6 L307.7 245.1 L307.7 244.6 L307.8 244.1 L307.9 243.6 L308.0 243.1 L308.0 242.6 L308.1 242.1 L308.2 241.6 L308.3 241.1 L308.4 240.6 L308.6 240.1 L308.7 239.6 L308.9 239.1 L309.0 238.6 L309.2 238.1 L309.4 237.6 L309.6 237.1 L309.9 236.6 L310.1 236.1 L310.3 235.6 L310.5 235.1 L310.8 234.6 L311.0 234.1 L311.3 233.6 L311.5 233.1 L311.7 232.6 L312.0 232.1 L312.2 231.6 L312.4 231.1 L312.6 230.6 L312.9 230.1 L313.1 229.6 L313.4 229.1 L313.6 228.6 L313.8 228.1 L314.1 227.6 L314.3 227.1 L314.6 226.6 L314.8 226.1 L315.1 225.6 Z" fill="#23902a" stroke="#2b2b2b" stroke-width="0.8" stroke-linejoin="round"/>
<line x1="324.3" y1="225.6" x2="324.3" y2="314.0" stroke="#2b2b2b" stroke-width="0.5"/>
<rect x="320.9" y="246.5" width="6.9" height="26.5" fill="#fff" stroke="#222" stroke-width="0.6"/>
<line x1="320.9" y1="266.5" x2="327.8" y2="266.5" stroke="#222" stroke-width="0.9"/>
<g fill="#1a1ec4" stroke="#0a0a78" stroke-width="0.5"><circle cx="324.3" cy="226.0" r="1.35"/><circle cx="324.3" cy="227.5" r="1.35"/><circle cx="324.3" cy="240.0" r="1.35"/><circle cx="324.3" cy="242.0" r="1.35"/><circle cx="324.3" cy="245.0" r="1.35"/><circle cx="324.3" cy="247.0" r="1.35"/><circle cx="324.3" cy="263.5" r="1.35"/><circle cx="324.3" cy="265.0" r="1.35"/><circle cx="324.3" cy="267.0" r="1.35"/><circle cx="324.3" cy="269.0" r="1.35"/><circle cx="324.3" cy="281.0" r="1.35"/><circle cx="324.3" cy="286.0" r="1.35"/><circle cx="324.3" cy="293.0" r="1.35"/><circle cx="324.3" cy="314.2" r="1.35"/></g>
<path d="M391.8 193.8 L392.6 194.3 L392.9 194.8 L392.9 195.3 L393.0 195.8 L393.0 196.3 L393.1 196.8 L393.1 197.3 L393.1 197.8 L393.2 198.3 L393.3 198.8 L393.4 199.3 L393.5 199.8 L393.6 200.3 L393.7 200.8 L393.8 201.3 L393.9 201.8 L394.0 202.3 L394.1 202.8 L394.2 203.3 L394.3 203.8 L394.4 204.3 L394.5 204.8 L394.6 205.3 L394.7 205.8 L394.8 206.3 L395.0 206.8 L395.2 207.3 L395.3 207.8 L395.5 208.3 L395.8 208.8 L396.0 209.3 L396.2 209.8 L396.4 210.3 L396.6 210.8 L396.9 211.3 L397.1 211.8 L397.3 212.3 L397.5 212.8 L397.8 213.3 L398.0 213.8 L398.3 214.3 L398.5 214.8 L398.8 215.3 L399.0 215.8 L399.3 216.3 L399.6 216.8 L399.8 217.3 L400.1 217.8 L400.4 218.3 L400.6 218.8 L400.9 219.3 L401.2 219.8 L401.5 220.3 L401.7 220.8 L402.0 221.3 L402.3 221.8 L402.5 222.3 L402.8 222.8 L403.1 223.3 L403.3 223.8 L403.6 224.3 L403.8 224.8 L404.1 225.3 L404.3 225.8 L404.6 226.3 L404.8 226.8 L405.0 227.3 L405.3 227.8 L405.6 228.3 L405.8 228.8 L406.1 229.3 L406.3 229.8 L406.5 230.3 L406.8 230.8 L407.0 231.3 L407.2 231.8 L407.4 232.3 L407.7 232.8 L407.9 233.3 L408.1 233.8 L408.3 234.3 L408.5 234.8 L408.6 235.3 L408.8 235.8 L409.0 236.3 L409.1 236.8 L409.3 237.3 L409.4 237.8 L409.6 238.3 L409.7 238.8 L409.8 239.3 L409.9 239.8 L410.0 240.3 L410.1 240.8 L410.2 241.3 L410.3 241.8 L410.4 242.3 L410.5 242.8 L410.5 243.3 L410.6 243.8 L410.6 244.3 L410.7 244.8 L410.7 245.3 L410.7 245.8 L410.7 246.3 L410.7 246.8 L410.7 247.3 L410.6 247.8 L410.6 248.3 L410.6 248.8 L410.6 249.3 L410.5 249.8 L410.5 250.3 L410.4 250.8 L410.4 251.3 L410.4 251.8 L410.3 252.3 L410.2 252.8 L410.1 253.3 L410.0 253.8 L409.9 254.3 L409.8 254.8 L409.7 255.3 L409.6 255.8 L409.5 256.3 L409.4 256.8 L409.3 257.3 L409.2 257.8 L409.1 258.3 L409.0 258.8 L409.0 259.3 L408.9 259.8 L408.8 260.3 L408.7 260.8 L408.6 261.3 L408.5 261.8 L408.4 262.3 L408.3 262.8 L408.3 263.3 L408.2 263.8 L408.1 264.3 L408.1 264.8 L408.0 265.3 L407.9 265.8 L407.9 266.3 L407.8 266.8 L407.8 267.3 L407.7 267.8 L407.7 268.3 L407.6 268.8 L407.6 269.3 L407.5 269.8 L407.5 270.3 L407.4 270.8 L407.4 271.3 L407.4 271.8 L407.3 272.3 L407.3 272.8 L407.3 273.3 L407.2 273.8 L407.2 274.3 L407.2 274.8 L407.2 275.3 L407.1 275.8 L407.1 276.3 L407.1 276.8 L407.1 277.3 L407.1 277.8 L407.0 278.3 L407.0 278.8 L407.0 279.3 L407.0 279.8 L406.9 280.3 L406.9 280.8 L406.9 281.3 L406.8 281.8 L406.8 282.3 L406.7 282.8 L406.7 283.3 L406.6 283.8 L406.6 284.3 L406.5 284.8 L406.5 285.3 L406.4 285.8 L406.3 286.3 L406.2 286.8 L406.2 287.3 L406.1 287.8 L406.0 288.3 L405.9 288.8 L405.8 289.3 L405.7 289.8 L405.6 290.3 L405.5 290.8 L405.3 291.3 L405.2 291.8 L405.1 292.3 L405.0 292.8 L404.8 293.3 L404.7 293.8 L404.5 294.3 L404.4 294.8 L404.2 295.3 L404.1 295.8 L404.0 296.3 L403.8 296.8 L403.7 297.3 L403.6 297.8 L403.5 298.3 L403.3 298.8 L403.2 299.3 L403.1 299.8 L402.9 300.3 L402.7 300.8 L402.4 301.3 L402.2 301.8 L401.9 302.3 L401.6 302.8 L401.3 303.3 L401.1 303.8 L400.8 304.3 L400.5 304.8 L400.3 305.3 L400.0 305.8 L399.8 306.3 L399.5 306.8 L399.3 307.3 L399.0 307.8 L398.8 308.3 L398.6 308.8 L398.3 309.3 L398.1 309.8 L397.9 310.3 L397.7 310.8 L397.5 311.3 L397.3 311.8 L397.0 312.3 L396.8 312.8 L396.6 313.3 L396.4 313.8 L396.2 314.3 L396.0 314.8 L395.7 315.3 L395.6 315.8 L395.4 316.3 L395.2 316.8 L395.0 317.3 L394.9 317.8 L394.7 318.3 L394.6 318.8 L394.4 319.3 L394.3 319.8 L394.2 320.3 L394.1 320.8 L394.0 321.3 L393.9 321.8 L393.8 322.3 L393.7 322.8 L393.6 323.3 L393.5 323.8 L393.5 324.3 L393.4 324.8 L393.3 325.3 L393.3 325.8 L393.2 326.3 L393.2 326.8 L393.1 327.3 L393.1 327.8 L393.0 328.3 L393.0 328.8 L393.0 329.3 L393.0 329.8 L392.9 330.3 L392.9 330.8 L392.9 331.3 L392.9 331.8 L392.9 332.3 L392.9 332.8 L392.8 333.3 L392.8 333.8 L392.8 334.3 L392.6 334.8 L392.4 335.3 L391.9 335.8 L391.6 336.0 L390.4 336.0 L390.1 335.8 L389.6 335.3 L389.4 334.8 L389.2 334.3 L389.2 333.8 L389.2 333.3 L389.1 332.8 L389.1 332.3 L389.1 331.8 L389.1 331.3 L389.1 330.8 L389.1 330.3 L389.0 329.8 L389.0 329.3 L389.0 328.8 L389.0 328.3 L388.9 327.8 L388.9 327.3 L388.8 326.8 L388.8 326.3 L388.7 325.8 L388.7 325.3 L388.6 324.8 L388.5 324.3 L388.5 323.8 L388.4 323.3 L388.3 322.8 L388.2 322.3 L388.1 321.8 L388.0 321.3 L387.9 320.8 L387.8 320.3 L387.7 319.8 L387.6 319.3 L387.4 318.8 L387.3 318.3 L387.1 317.8 L387.0 317.3 L386.8 316.8 L386.6 316.3 L386.4 315.8 L386.3 315.3 L386.0 314.8 L385.8 314.3 L385.6 313.8 L385.4 313.3 L385.2 312.8 L385.0 312.3 L384.7 311.8 L384.5 311.3 L384.3 310.8 L384.1 310.3 L383.9 309.8 L383.7 309.3 L383.4 308.8 L383.2 308.3 L383.0 307.8 L382.7 307.3 L382.5 306.8 L382.2 306.3 L382.0 305.8 L381.7 305.3 L381.5 304.8 L381.2 304.3 L380.9 303.8 L380.7 303.3 L380.4 302.8 L380.1 302.3 L379.8 301.8 L379.6 301.3 L379.3 300.8 L379.1 300.3 L378.9 299.8 L378.8 299.3 L378.7 298.8 L378.5 298.3 L378.4 297.8 L378.3 297.3 L378.2 296.8 L378.0 296.3 L377.9 295.8 L377.8 295.3 L377.6 294.8 L377.5 294.3 L377.3 293.8 L377.2 293.3 L377.0 292.8 L376.9 292.3 L376.8 291.8 L376.7 291.3 L376.5 290.8 L376.4 290.3 L376.3 289.8 L376.2 289.3 L376.1 288.8 L376.0 288.3 L375.9 287.8 L375.8 287.3 L375.8 286.8 L375.7 286.3 L375.6 285.8 L375.5 285.3 L375.5 284.8 L375.4 284.3 L375.4 283.8 L375.3 283.3 L375.3 282.8 L375.2 282.3 L375.2 281.8 L375.1 281.3 L375.1 280.8 L375.1 280.3 L375.0 279.8 L375.0 279.3 L375.0 278.8 L375.0 278.3 L374.9 277.8 L374.9 277.3 L374.9 276.8 L374.9 276.3 L374.9 275.8 L374.8 275.3 L374.8 274.8 L374.8 274.3 L374.8 273.8 L374.7 273.3 L374.7 272.8 L374.7 272.3 L374.6 271.8 L374.6 271.3 L374.6 270.8 L374.5 270.3 L374.5 269.8 L374.4 269.3 L374.4 268.8 L374.3 268.3 L374.3 267.8 L374.2 267.3 L374.2 266.8 L374.1 266.3 L374.1 265.8 L374.0 265.3 L373.9 264.8 L373.9 264.3 L373.8 263.8 L373.7 263.3 L373.7 262.8 L373.6 262.3 L373.5 261.8 L373.4 261.3 L373.3 260.8 L373.2 260.3 L373.1 259.8 L373.0 259.3 L373.0 258.8 L372.9 258.3 L372.8 257.8 L372.7 257.3 L372.6 256.8 L372.5 256.3 L372.4 255.8 L372.3 255.3 L372.2 254.8 L372.1 254.3 L372.0 253.8 L371.9 253.3 L371.8 252.8 L371.7 252.3 L371.6 251.8 L371.6 251.3 L371.6 250.8 L371.5 250.3 L371.5 249.8 L371.4 249.3 L371.4 248.8 L371.4 248.3 L371.4 247.8 L371.3 247.3 L371.3 246.8 L371.3 246.3 L371.3 245.8 L371.3 245.3 L371.3 244.8 L371.4 244.3 L371.4 243.8 L371.5 243.3 L371.5 242.8 L371.6 242.3 L371.7 241.8 L371.8 241.3 L371.9 240.8 L372.0 240.3 L372.1 239.8 L372.2 239.3 L372.3 238.8 L372.4 238.3 L372.6 237.8 L372.7 237.3 L372.9 236.8 L373.0 236.3 L373.2 235.8 L373.4 235.3 L373.5 234.8 L373.7 234.3 L373.9 233.8 L374.1 233.3 L374.3 232.8 L374.6 232.3 L374.8 231.8 L375.0 231.3 L375.2 230.8 L375.5 230.3 L375.7 229.8 L375.9 229.3 L376.2 228.8 L376.4 228.3 L376.7 227.8 L377.0 227.3 L377.2 226.8 L377.4 226.3 L377.7 225.8 L377.9 225.3 L378.2 224.8 L378.4 224.3 L378.7 223.8 L378.9 223.3 L379.2 222.8 L379.5 222.3 L379.7 221.8 L380.0 221.3 L380.3 220.8 L380.5 220.3 L380.8 219.8 L381.1 219.3 L381.4 218.8 L381.6 218.3 L381.9 217.8 L382.2 217.3 L382.4 216.8 L382.7 216.3 L383.0 215.8 L383.2 215.3 L383.5 214.8 L383.7 214.3 L384.0 213.8 L384.2 213.3 L384.5 212.8 L384.7 212.3 L384.9 211.8 L385.1 211.3 L385.4 210.8 L385.6 210.3 L385.8 209.8 L386.0 209.3 L386.2 208.8 L386.5 208.3 L386.7 207.8 L386.8 207.3 L387.0 206.8 L387.2 206.3 L387.3 205.8 L387.4 205.3 L387.5 204.8 L387.6 204.3 L387.7 203.8 L387.8 203.3 L387.9 202.8 L388.0 202.3 L388.1 201.8 L388.2 201.3 L388.3 200.8 L388.4 200.3 L388.5 199.8 L388.6 199.3 L388.7 198.8 L388.8 198.3 L388.9 197.8 L388.9 197.3 L388.9 196.8 L389.0 196.3 L389.0 195.8 L389.1 195.3 L389.1 194.8 L389.4 194.3 L390.2 193.8 Z" fill="#23902a" stroke="#2b2b2b" stroke-width="0.8" stroke-linejoin="round"/>
<line x1="391.0" y1="193.8" x2="391.0" y2="336.0" stroke="#2b2b2b" stroke-width="0.5"/>
<rect x="387.6" y="241.4" width="6.9" height="41.3" fill="#fff" stroke="#222" stroke-width="0.6"/>
<line x1="387.6" y1="258.0" x2="394.4" y2="258.0" stroke="#222" stroke-width="0.9"/>
<g fill="#1a1ec4" stroke="#0a0a78" stroke-width="0.5"><circle cx="391.0" cy="194.6" r="1.35"/><circle cx="391.0" cy="216.5" r="1.35"/><circle cx="391.0" cy="225.0" r="1.35"/><circle cx="391.0" cy="228.0" r="1.35"/><circle cx="391.0" cy="234.0" r="1.35"/><circle cx="391.0" cy="237.0" r="1.35"/><circle cx="391.0" cy="241.0" r="1.35"/><circle cx="391.0" cy="243.0" r="1.35"/><circle cx="391.0" cy="245.0" r="1.35"/><circle cx="391.0" cy="247.0" r="1.35"/><circle cx="391.0" cy="249.0" r="1.35"/><circle cx="391.0" cy="251.0" r="1.35"/><circle cx="391.0" cy="253.0" r="1.35"/><circle cx="391.0" cy="255.0" r="1.35"/><circle cx="391.0" cy="257.0" r="1.35"/><circle cx="391.0" cy="259.0" r="1.35"/><circle cx="391.0" cy="265.0" r="1.35"/><circle cx="391.0" cy="268.0" r="1.35"/><circle cx="391.0" cy="272.0" r="1.35"/><circle cx="391.0" cy="278.0" r="1.35"/><circle cx="391.0" cy="281.0" r="1.35"/><circle cx="391.0" cy="284.0" r="1.35"/><circle cx="391.0" cy="293.0" r="1.35"/><circle cx="391.0" cy="295.0" r="1.35"/><circle cx="391.0" cy="297.0" r="1.35"/><circle cx="391.0" cy="299.0" r="1.35"/><circle cx="391.0" cy="301.0" r="1.35"/><circle cx="391.0" cy="303.0" r="1.35"/><circle cx="391.0" cy="305.0" r="1.35"/><circle cx="391.0" cy="333.5" r="1.35"/></g>
<path d="M266.8 386.3 L267.5 386.8 L268.1 387.3 L268.8 387.8 L269.4 388.3 L270.0 388.8 L270.7 389.3 L271.3 389.8 L272.0 390.3 L272.6 390.8 L273.2 391.3 L273.7 391.8 L274.3 392.3 L274.8 392.8 L275.3 393.3 L275.8 393.8 L276.3 394.3 L276.8 394.8 L277.2 395.3 L277.7 395.8 L278.1 396.3 L278.6 396.8 L279.0 397.3 L279.4 397.8 L279.8 398.3 L280.1 398.8 L280.5 399.3 L280.9 399.8 L281.2 400.3 L281.6 400.8 L281.9 401.3 L282.2 401.8 L282.5 402.3 L282.8 402.8 L283.1 403.3 L283.3 403.8 L283.6 404.3 L283.9 404.8 L284.1 405.3 L284.3 405.8 L284.6 406.3 L284.8 406.8 L285.0 407.3 L285.2 407.8 L285.4 408.3 L285.6 408.8 L285.8 409.3 L286.0 409.8 L286.2 410.3 L286.4 410.8 L286.5 411.3 L286.7 411.8 L286.8 412.3 L287.0 412.8 L287.1 413.3 L287.2 413.8 L287.3 414.3 L287.4 414.8 L287.5 415.3 L287.6 415.8 L287.7 416.3 L287.8 416.8 L287.9 417.3 L288.0 417.8 L288.0 418.3 L288.1 418.8 L288.1 419.3 L288.1 419.8 L288.1 420.3 L288.1 420.8 L288.1 421.3 L288.1 421.8 L288.1 422.3 L288.1 422.8 L288.1 423.3 L288.0 423.8 L287.9 424.3 L287.7 424.8 L287.5 425.3 L287.2 425.8 L286.9 426.3 L286.6 426.8 L286.3 427.3 L286.1 427.8 L285.8 428.3 L285.4 428.8 L285.0 429.3 L284.5 429.8 L284.1 430.3 L283.6 430.8 L283.1 431.3 L282.6 431.8 L282.1 432.3 L281.6 432.8 L281.1 433.3 L280.7 433.8 L280.2 434.3 L279.7 434.8 L279.2 435.3 L278.8 435.8 L278.3 436.3 L277.8 436.8 L277.2 437.3 L276.7 437.8 L276.1 438.3 L275.6 438.8 L275.0 439.3 L274.4 439.8 L273.7 440.3 L273.1 440.8 L272.5 441.3 L271.8 441.8 L271.1 442.3 L270.5 442.8 L269.8 443.3 L269.1 443.8 L268.4 444.3 L267.7 444.8 L267.1 445.3 L266.5 445.8 L266.0 446.3 L265.4 446.8 L264.9 447.3 L264.4 447.8 L263.9 448.3 L263.5 448.8 L263.0 449.3 L262.6 449.8 L262.3 450.3 L262.0 450.8 L261.7 451.3 L261.5 451.8 L261.2 452.3 L261.0 452.8 L260.8 453.3 L260.6 453.8 L260.5 454.3 L260.3 454.8 L260.2 455.3 L260.1 455.8 L260.1 456.3 L260.0 456.8 L259.9 457.3 L259.9 457.8 L259.8 458.3 L259.8 458.8 L259.8 459.3 L259.7 459.8 L259.7 460.3 L259.7 460.8 L259.7 461.3 L259.7 461.8 L259.8 462.3 L259.8 462.8 L259.9 463.3 L260.0 463.8 L260.0 464.3 L260.1 464.8 L260.2 465.3 L260.3 465.8 L260.4 466.3 L260.6 466.8 L260.7 467.3 L260.8 467.8 L260.9 468.3 L260.9 468.8 L260.9 469.3 L260.9 469.8 L260.9 470.3 L260.9 470.8 L260.8 471.3 L260.8 471.8 L260.5 472.3 L260.1 472.8 L255.3 472.8 L254.9 472.3 L254.6 471.8 L254.6 471.3 L254.5 470.8 L254.5 470.3 L254.5 469.8 L254.5 469.3 L254.5 468.8 L254.5 468.3 L254.6 467.8 L254.7 467.3 L254.8 466.8 L255.0 466.3 L255.1 465.8 L255.2 465.3 L255.3 464.8 L255.4 464.3 L255.4 463.8 L255.5 463.3 L255.6 462.8 L255.6 462.3 L255.7 461.8 L255.7 461.3 L255.7 460.8 L255.7 460.3 L255.7 459.8 L255.6 459.3 L255.6 458.8 L255.6 458.3 L255.5 457.8 L255.5 457.3 L255.4 456.8 L255.3 456.3 L255.3 455.8 L255.2 455.3 L255.1 454.8 L254.9 454.3 L254.8 453.8 L254.6 453.3 L254.4 452.8 L254.2 452.3 L253.9 451.8 L253.7 451.3 L253.4 450.8 L253.1 450.3 L252.8 449.8 L252.4 449.3 L251.9 448.8 L251.5 448.3 L251.0 447.8 L250.5 447.3 L250.0 446.8 L249.4 446.3 L248.9 445.8 L248.3 445.3 L247.7 444.8 L247.0 444.3 L246.3 443.8 L245.6 443.3 L244.9 442.8 L244.3 442.3 L243.6 441.8 L242.9 441.3 L242.3 440.8 L241.7 440.3 L241.0 439.8 L240.4 439.3 L239.8 438.8 L239.3 438.3 L238.7 437.8 L238.2 437.3 L237.6 436.8 L237.1 436.3 L236.6 435.8 L236.2 435.3 L235.7 434.8 L235.2 434.3 L234.7 433.8 L234.3 433.3 L233.8 432.8 L233.3 432.3 L232.8 431.8 L232.3 431.3 L231.8 430.8 L231.3 430.3 L230.9 429.8 L230.4 429.3 L230.0 428.8 L229.6 428.3 L229.3 427.8 L229.1 427.3 L228.8 426.8 L228.5 426.3 L228.2 425.8 L227.9 425.3 L227.7 424.8 L227.5 424.3 L227.4 423.8 L227.3 423.3 L227.3 422.8 L227.3 422.3 L227.3 421.8 L227.3 421.3 L227.3 420.8 L227.3 420.3 L227.3 419.8 L227.3 419.3 L227.3 418.8 L227.4 418.3 L227.4 417.8 L227.5 417.3 L227.6 416.8 L227.7 416.3 L227.8 415.8 L227.9 415.3 L228.0 414.8 L228.1 414.3 L228.2 413.8 L228.3 413.3 L228.4 412.8 L228.6 412.3 L228.7 411.8 L228.9 411.3 L229.0 410.8 L229.2 410.3 L229.4 409.8 L229.6 409.3 L229.8 408.8 L230.0 408.3 L230.2 407.8 L230.4 407.3 L230.6 406.8 L230.8 406.3 L231.1 405.8 L231.3 405.3 L231.5 404.8 L231.8 404.3 L232.1 403.8 L232.3 403.3 L232.6 402.8 L232.9 402.3 L233.2 401.8 L233.5 401.3 L233.8 400.8 L234.2 400.3 L234.5 399.8 L234.9 399.3 L235.3 398.8 L235.6 398.3 L236.0 397.8 L236.4 397.3 L236.8 396.8 L237.3 396.3 L237.7 395.8 L238.2 395.3 L238.6 394.8 L239.1 394.3 L239.6 393.8 L240.1 393.3 L240.6 392.8 L241.1 392.3 L241.7 391.8 L242.2 391.3 L242.8 390.8 L243.4 390.3 L244.1 389.8 L244.7 389.3 L245.4 388.8 L246.0 388.3 L246.6 387.8 L247.3 387.3 L247.9 386.8 L248.6 386.3 Z" fill="#23902a" stroke="#2b2b2b" stroke-width="0.8" stroke-linejoin="round"/>
<line x1="257.7" y1="386.3" x2="257.7" y2="472.8" stroke="#2b2b2b" stroke-width="0.5"/>
<rect x="254.2" y="405.6" width="6.9" height="22.4" fill="#fff" stroke="#222" stroke-width="0.6"/>
<line x1="254.2" y1="420.0" x2="261.1" y2="420.0" stroke="#222" stroke-width="0.9"/>
<g fill="#1a1ec4" stroke="#0a0a78" stroke-width="0.5"><circle cx="257.7" cy="386.2" r="1.35"/><circle cx="257.7" cy="393.0" r="1.35"/><circle cx="257.7" cy="399.0" r="1.35"/><circle cx="257.7" cy="403.0" r="1.35"/><circle cx="257.7" cy="406.0" r="1.35"/><circle cx="257.7" cy="408.0" r="1.35"/><circle cx="257.7" cy="410.0" r="1.35"/><circle cx="257.7" cy="413.0" r="1.35"/><circle cx="257.7" cy="415.0" r="1.35"/><circle cx="257.7" cy="417.0" r="1.35"/><circle cx="257.7" cy="419.0" r="1.35"/><circle cx="257.7" cy="421.0" r="1.35"/><circle cx="257.7" cy="423.0" r="1.35"/><circle cx="257.7" cy="425.0" r="1.35"/><circle cx="257.7" cy="427.0" r="1.35"/><circle cx="257.7" cy="431.0" r="1.35"/><circle cx="257.7" cy="434.0" r="1.35"/><circle cx="257.7" cy="437.0" r="1.35"/><circle cx="257.7" cy="440.0" r="1.35"/><circle cx="257.7" cy="472.2" r="1.35"/></g>
<path d="M333.1 394.6 L333.7 395.1 L334.2 395.6 L334.8 396.1 L335.4 396.6 L335.9 397.1 L336.4 397.6 L336.9 398.1 L337.4 398.6 L337.9 399.1 L338.4 399.6 L338.9 400.1 L339.4 400.6 L339.8 401.1 L340.3 401.6 L340.8 402.1 L341.3 402.6 L341.7 403.1 L342.1 403.6 L342.6 404.1 L343.0 404.6 L343.3 405.1 L343.6 405.6 L343.9 406.1 L344.1 406.6 L344.4 407.1 L344.6 407.6 L344.8 408.1 L345.0 408.6 L345.2 409.1 L345.4 409.6 L345.6 410.1 L345.7 410.6 L345.9 411.1 L346.0 411.6 L346.2 412.1 L346.3 412.6 L346.4 413.1 L346.5 413.6 L346.5 414.1 L346.6 414.6 L346.6 415.1 L346.6 415.6 L346.6 416.1 L346.7 416.6 L346.7 417.1 L346.7 417.6 L346.7 418.1 L346.7 418.6 L346.7 419.1 L346.8 419.6 L346.8 420.1 L346.8 420.6 L346.8 421.1 L346.8 421.6 L346.8 422.1 L346.8 422.6 L346.8 423.1 L346.8 423.6 L346.7 424.1 L346.6 424.6 L346.5 425.1 L346.4 425.6 L346.2 426.1 L346.0 426.6 L345.9 427.1 L345.7 427.6 L345.6 428.1 L345.4 428.6 L345.3 429.1 L345.1 429.6 L345.0 430.1 L344.9 430.6 L344.7 431.1 L344.6 431.6 L344.4 432.1 L344.3 432.6 L344.2 433.1 L344.0 433.6 L343.9 434.1 L343.9 434.6 L343.8 435.1 L343.7 435.6 L343.7 436.1 L343.6 436.6 L343.5 437.1 L343.5 437.6 L343.4 438.1 L343.4 438.6 L343.4 439.1 L343.3 439.6 L343.3 440.1 L343.3 440.6 L343.3 441.1 L343.3 441.6 L343.3 442.1 L343.4 442.6 L343.4 443.1 L343.4 443.6 L343.5 444.1 L343.5 444.6 L343.5 445.1 L343.6 445.6 L343.6 446.1 L343.6 446.6 L343.6 447.1 L343.6 447.6 L343.5 448.1 L343.4 448.6 L343.3 449.1 L343.1 449.6 L343.0 450.1 L342.8 450.6 L342.6 451.1 L342.4 451.6 L342.2 452.1 L342.0 452.6 L341.8 453.1 L341.5 453.6 L341.3 454.1 L341.0 454.6 L340.6 455.1 L340.3 455.6 L339.9 456.1 L339.5 456.6 L339.2 457.1 L338.8 457.6 L338.4 458.1 L338.1 458.6 L337.7 459.1 L337.4 459.6 L337.1 460.1 L336.7 460.6 L336.4 461.1 L336.1 461.6 L335.8 462.1 L335.4 462.6 L335.1 463.1 L334.8 463.6 L334.4 464.1 L334.1 464.6 L333.7 465.1 L333.4 465.6 L332.9 466.1 L332.5 466.6 L332.1 467.1 L331.7 467.6 L331.3 468.1 L330.9 468.6 L330.5 469.1 L330.2 469.6 L329.9 470.1 L329.7 470.6 L329.5 471.1 L329.3 471.6 L329.1 472.1 L328.9 472.6 L328.8 473.0 L319.8 473.0 L319.7 472.6 L319.5 472.1 L319.3 471.6 L319.1 471.1 L318.9 470.6 L318.7 470.1 L318.4 469.6 L318.1 469.1 L317.7 468.6 L317.3 468.1 L316.9 467.6 L316.5 467.1 L316.1 466.6 L315.7 466.1 L315.2 465.6 L314.9 465.1 L314.5 464.6 L314.2 464.1 L313.8 463.6 L313.5 463.1 L313.2 462.6 L312.8 462.1 L312.5 461.6 L312.2 461.1 L311.9 460.6 L311.5 460.1 L311.2 459.6 L310.9 459.1 L310.5 458.6 L310.2 458.1 L309.8 457.6 L309.4 457.1 L309.1 456.6 L308.7 456.1 L308.3 455.6 L308.0 455.1 L307.6 454.6 L307.3 454.1 L307.1 453.6 L306.8 453.1 L306.6 452.6 L306.4 452.1 L306.2 451.6 L306.0 451.1 L305.8 450.6 L305.6 450.1 L305.5 449.6 L305.3 449.1 L305.2 448.6 L305.1 448.1 L305.0 447.6 L305.0 447.1 L305.0 446.6 L305.0 446.1 L305.0 445.6 L305.1 445.1 L305.1 444.6 L305.1 444.1 L305.2 443.6 L305.2 443.1 L305.2 442.6 L305.3 442.1 L305.3 441.6 L305.3 441.1 L305.3 440.6 L305.3 440.1 L305.3 439.6 L305.2 439.1 L305.2 438.6 L305.2 438.1 L305.1 437.6 L305.1 437.1 L305.0 436.6 L304.9 436.1 L304.9 435.6 L304.8 435.1 L304.7 434.6 L304.7 434.1 L304.6 433.6 L304.4 433.1 L304.3 432.6 L304.2 432.1 L304.0 431.6 L303.9 431.1 L303.7 430.6 L303.6 430.1 L303.5 429.6 L303.3 429.1 L303.2 428.6 L303.0 428.1 L302.9 427.6 L302.7 427.1 L302.6 426.6 L302.4 426.1 L302.2 425.6 L302.1 425.1 L302.0 424.6 L301.9 424.1 L301.8 423.6 L301.8 423.1 L301.8 422.6 L301.8 422.1 L301.8 421.6 L301.8 421.1 L301.8 420.6 L301.8 420.1 L301.8 419.6 L301.9 419.1 L301.9 418.6 L301.9 418.1 L301.9 417.6 L301.9 417.1 L301.9 416.6 L302.0 416.1 L302.0 415.6 L302.0 415.1 L302.0 414.6 L302.1 414.1 L302.1 413.6 L302.2 413.1 L302.3 412.6 L302.4 412.1 L302.6 411.6 L302.7 411.1 L302.9 410.6 L303.0 410.1 L303.2 409.6 L303.4 409.1 L303.6 408.6 L303.8 408.1 L304.0 407.6 L304.2 407.1 L304.5 406.6 L304.7 406.1 L305.0 405.6 L305.3 405.1 L305.6 404.6 L306.0 404.1 L306.5 403.6 L306.9 403.1 L307.3 402.6 L307.8 402.1 L308.3 401.6 L308.8 401.1 L309.2 400.6 L309.7 400.1 L310.2 399.6 L310.7 399.1 L311.2 398.6 L311.7 398.1 L312.2 397.6 L312.7 397.1 L313.2 396.6 L313.8 396.1 L314.4 395.6 L314.9 395.1 L315.5 394.6 Z" fill="#23902a" stroke="#2b2b2b" stroke-width="0.8" stroke-linejoin="round"/>
<line x1="324.3" y1="394.6" x2="324.3" y2="473.0" stroke="#2b2b2b" stroke-width="0.5"/>
<rect x="320.9" y="416.6" width="6.9" height="35.4" fill="#fff" stroke="#222" stroke-width="0.6"/>
<line x1="320.9" y1="432.0" x2="327.8" y2="432.0" stroke="#222" stroke-width="0.9"/>
<g fill="#1a1ec4" stroke="#0a0a78" stroke-width="0.5"><circle cx="324.3" cy="394.8" r="1.35"/><circle cx="324.3" cy="404.0" r="1.35"/><circle cx="324.3" cy="407.0" r="1.35"/><circle cx="324.3" cy="410.0" r="1.35"/><circle cx="324.3" cy="412.0" r="1.35"/><circle cx="324.3" cy="418.0" r="1.35"/><circle cx="324.3" cy="421.0" r="1.35"/><circle cx="324.3" cy="428.5" r="1.35"/><circle cx="324.3" cy="431.0" r="1.35"/><circle cx="324.3" cy="433.0" r="1.35"/><circle cx="324.3" cy="450.5" r="1.35"/><circle cx="324.3" cy="453.0" r="1.35"/><circle cx="324.3" cy="455.0" r="1.35"/><circle cx="324.3" cy="472.8" r="1.35"/></g>
<path d="M399.8 393.0 L400.1 393.5 L400.4 394.0 L400.7 394.5 L401.0 395.0 L401.3 395.5 L401.6 396.0 L401.9 396.5 L402.2 397.0 L402.5 397.5 L402.7 398.0 L403.0 398.5 L403.3 399.0 L403.5 399.5 L403.8 400.0 L404.1 400.5 L404.3 401.0 L404.5 401.5 L404.8 402.0 L405.0 402.5 L405.3 403.0 L405.5 403.5 L405.7 404.0 L405.9 404.5 L406.2 405.0 L406.4 405.5 L406.6 406.0 L406.8 406.5 L407.1 407.0 L407.3 407.5 L407.5 408.0 L407.7 408.5 L407.9 409.0 L408.1 409.5 L408.4 410.0 L408.6 410.5 L408.8 411.0 L409.0 411.5 L409.2 412.0 L409.4 412.5 L409.6 413.0 L409.8 413.5 L410.0 414.0 L410.2 414.5 L410.4 415.0 L410.6 415.5 L410.8 416.0 L411.0 416.5 L411.2 417.0 L411.3 417.5 L411.5 418.0 L411.7 418.5 L411.8 419.0 L411.9 419.5 L412.1 420.0 L412.2 420.5 L412.3 421.0 L412.4 421.5 L412.6 422.0 L412.7 422.5 L412.8 423.0 L412.9 423.5 L412.9 424.0 L413.0 424.5 L413.0 425.0 L413.0 425.5 L413.0 426.0 L412.9 426.5 L412.9 427.0 L412.8 427.5 L412.8 428.0 L412.7 428.5 L412.6 429.0 L412.6 429.5 L412.5 430.0 L412.4 430.5 L412.2 431.0 L412.1 431.5 L412.0 432.0 L411.8 432.5 L411.6 433.0 L411.5 433.5 L411.3 434.0 L411.1 434.5 L410.9 435.0 L410.7 435.5 L410.6 436.0 L410.4 436.5 L410.2 437.0 L410.0 437.5 L409.9 438.0 L409.7 438.5 L409.5 439.0 L409.3 439.5 L409.1 440.0 L408.9 440.5 L408.7 441.0 L408.5 441.5 L408.3 442.0 L408.1 442.5 L407.9 443.0 L407.7 443.5 L407.5 444.0 L407.3 444.5 L407.1 445.0 L406.9 445.5 L406.7 446.0 L406.5 446.5 L406.3 447.0 L406.1 447.5 L405.9 448.0 L405.6 448.5 L405.4 449.0 L405.2 449.5 L405.0 450.0 L404.8 450.5 L404.6 451.0 L404.4 451.5 L404.2 452.0 L404.0 452.5 L403.8 453.0 L403.6 453.5 L403.4 454.0 L403.2 454.5 L403.0 455.0 L402.8 455.5 L402.6 456.0 L402.3 456.5 L402.1 457.0 L401.9 457.5 L401.7 458.0 L401.4 458.5 L401.2 459.0 L400.9 459.5 L400.7 460.0 L400.5 460.5 L400.3 461.0 L400.0 461.5 L399.8 462.0 L399.6 462.5 L399.4 463.0 L399.2 463.5 L399.0 464.0 L398.8 464.5 L398.5 465.0 L398.3 465.5 L398.2 466.0 L398.0 466.5 L397.8 467.0 L397.7 467.5 L397.6 468.0 L397.5 468.5 L397.4 469.0 L397.3 469.5 L397.3 470.0 L397.2 470.5 L397.1 471.0 L397.1 471.5 L397.0 472.0 L396.9 472.5 L396.9 473.0 L396.8 473.5 L396.8 474.0 L396.7 474.5 L396.6 475.0 L396.6 475.5 L396.5 476.0 L396.5 476.5 L396.4 477.0 L396.3 477.5 L396.3 478.0 L396.2 478.5 L396.2 479.0 L396.1 479.5 L396.1 480.0 L396.0 480.5 L396.0 481.0 L395.9 481.5 L395.8 482.0 L395.7 482.5 L395.6 483.0 L395.4 483.5 L395.3 484.0 L395.1 484.5 L395.0 485.0 L394.8 485.5 L394.7 486.0 L394.6 486.5 L394.5 487.0 L394.4 487.5 L394.4 488.0 L394.3 488.5 L394.2 489.0 L394.1 489.5 L394.0 490.0 L394.0 490.5 L393.9 491.0 L393.8 491.5 L393.7 492.0 L393.6 492.5 L393.6 493.0 L393.5 493.5 L393.4 494.0 L393.4 494.5 L393.3 495.0 L393.3 495.5 L393.3 496.0 L393.2 496.5 L393.2 497.0 L393.2 497.5 L393.1 498.0 L393.1 498.5 L393.1 499.0 L393.0 499.5 L393.0 500.0 L393.0 500.5 L393.0 501.0 L392.9 501.5 L392.9 502.0 L392.9 502.5 L392.9 503.0 L392.9 503.5 L392.8 504.0 L392.8 504.5 L392.8 505.0 L392.8 505.5 L392.8 506.0 L392.8 506.5 L392.8 507.0 L392.8 507.5 L392.8 508.0 L392.8 508.5 L392.8 509.0 L392.8 509.5 L392.8 510.0 L392.8 510.5 L392.8 511.0 L392.8 511.5 L392.8 512.0 L392.8 512.5 L392.8 513.0 L392.7 513.5 L392.7 514.0 L392.7 514.5 L392.7 515.0 L392.7 515.5 L392.7 516.0 L392.7 516.5 L392.5 517.0 L392.2 517.5 L391.6 518.0 L390.4 518.0 L389.8 517.5 L389.5 517.0 L389.3 516.5 L389.3 516.0 L389.3 515.5 L389.3 515.0 L389.3 514.5 L389.3 514.0 L389.3 513.5 L389.2 513.0 L389.2 512.5 L389.2 512.0 L389.2 511.5 L389.2 511.0 L389.2 510.5 L389.2 510.0 L389.2 509.5 L389.2 509.0 L389.2 508.5 L389.2 508.0 L389.2 507.5 L389.2 507.0 L389.2 506.5 L389.2 506.0 L389.2 505.5 L389.2 505.0 L389.2 504.5 L389.2 504.0 L389.1 503.5 L389.1 503.0 L389.1 502.5 L389.1 502.0 L389.1 501.5 L389.0 501.0 L389.0 500.5 L389.0 500.0 L389.0 499.5 L388.9 499.0 L388.9 498.5 L388.9 498.0 L388.8 497.5 L388.8 497.0 L388.8 496.5 L388.7 496.0 L388.7 495.5 L388.7 495.0 L388.6 494.5 L388.6 494.0 L388.5 493.5 L388.4 493.0 L388.4 492.5 L388.3 492.0 L388.2 491.5 L388.1 491.0 L388.0 490.5 L388.0 490.0 L387.9 489.5 L387.8 489.0 L387.7 488.5 L387.6 488.0 L387.6 487.5 L387.5 487.0 L387.4 486.5 L387.3 486.0 L387.2 485.5 L387.0 485.0 L386.9 484.5 L386.7 484.0 L386.6 483.5 L386.4 483.0 L386.3 482.5 L386.2 482.0 L386.1 481.5 L386.0 481.0 L386.0 480.5 L385.9 480.0 L385.9 479.5 L385.8 479.0 L385.8 478.5 L385.7 478.0 L385.7 477.5 L385.6 477.0 L385.5 476.5 L385.5 476.0 L385.4 475.5 L385.4 475.0 L385.3 474.5 L385.2 474.0 L385.2 473.5 L385.1 473.0 L385.1 472.5 L385.0 472.0 L384.9 471.5 L384.9 471.0 L384.8 470.5 L384.7 470.0 L384.7 469.5 L384.6 469.0 L384.5 468.5 L384.4 468.0 L384.3 467.5 L384.2 467.0 L384.0 466.5 L383.8 466.0 L383.7 465.5 L383.5 465.0 L383.2 464.5 L383.0 464.0 L382.8 463.5 L382.6 463.0 L382.4 462.5 L382.2 462.0 L382.0 461.5 L381.7 461.0 L381.5 460.5 L381.3 460.0 L381.1 459.5 L380.8 459.0 L380.6 458.5 L380.3 458.0 L380.1 457.5 L379.9 457.0 L379.7 456.5 L379.4 456.0 L379.2 455.5 L379.0 455.0 L378.8 454.5 L378.6 454.0 L378.4 453.5 L378.2 453.0 L378.0 452.5 L377.8 452.0 L377.6 451.5 L377.4 451.0 L377.2 450.5 L377.0 450.0 L376.8 449.5 L376.6 449.0 L376.4 448.5 L376.1 448.0 L375.9 447.5 L375.7 447.0 L375.5 446.5 L375.3 446.0 L375.1 445.5 L374.9 445.0 L374.7 444.5 L374.5 444.0 L374.3 443.5 L374.1 443.0 L373.9 442.5 L373.7 442.0 L373.5 441.5 L373.3 441.0 L373.1 440.5 L372.9 440.0 L372.7 439.5 L372.5 439.0 L372.3 438.5 L372.1 438.0 L372.0 437.5 L371.8 437.0 L371.6 436.5 L371.4 436.0 L371.3 435.5 L371.1 435.0 L370.9 434.5 L370.7 434.0 L370.5 433.5 L370.4 433.0 L370.2 432.5 L370.0 432.0 L369.9 431.5 L369.8 431.0 L369.6 430.5 L369.5 430.0 L369.4 429.5 L369.4 429.0 L369.3 428.5 L369.2 428.0 L369.2 427.5 L369.1 427.0 L369.1 426.5 L369.0 426.0 L369.0 425.5 L369.0 425.0 L369.0 424.5 L369.1 424.0 L369.1 423.5 L369.2 423.0 L369.3 422.5 L369.4 422.0 L369.6 421.5 L369.7 421.0 L369.8 420.5 L369.9 420.0 L370.1 419.5 L370.2 419.0 L370.3 418.5 L370.5 418.0 L370.7 417.5 L370.8 417.0 L371.0 416.5 L371.2 416.0 L371.4 415.5 L371.6 415.0 L371.8 414.5 L372.0 414.0 L372.2 413.5 L372.4 413.0 L372.6 412.5 L372.8 412.0 L373.0 411.5 L373.2 411.0 L373.4 410.5 L373.6 410.0 L373.9 409.5 L374.1 409.0 L374.3 408.5 L374.5 408.0 L374.7 407.5 L374.9 407.0 L375.2 406.5 L375.4 406.0 L375.6 405.5 L375.8 405.0 L376.1 404.5 L376.3 404.0 L376.5 403.5 L376.7 403.0 L377.0 402.5 L377.2 402.0 L377.5 401.5 L377.7 401.0 L377.9 400.5 L378.2 400.0 L378.5 399.5 L378.7 399.0 L379.0 398.5 L379.3 398.0 L379.5 397.5 L379.8 397.0 L380.1 396.5 L380.4 396.0 L380.7 395.5 L381.0 395.0 L381.3 394.5 L381.6 394.0 L381.9 393.5 L382.2 393.0 Z" fill="#23902a" stroke="#2b2b2b" stroke-width="0.8" stroke-linejoin="round"/>
<line x1="391.0" y1="393.0" x2="391.0" y2="518.0" stroke="#2b2b2b" stroke-width="0.5"/>
<rect x="387.6" y="417.6" width="6.9" height="32.4" fill="#fff" stroke="#222" stroke-width="0.6"/>
<line x1="387.6" y1="433.2" x2="394.4" y2="433.2" stroke="#222" stroke-width="0.9"/>
<g fill="#1a1ec4" stroke="#0a0a78" stroke-width="0.5"><circle cx="391.0" cy="393.2" r="1.35"/><circle cx="391.0" cy="395.0" r="1.35"/><circle cx="391.0" cy="397.0" r="1.35"/><circle cx="391.0" cy="399.0" r="1.35"/><circle cx="391.0" cy="401.0" r="1.35"/><circle cx="391.0" cy="403.0" r="1.35"/><circle cx="391.0" cy="405.0" r="1.35"/><circle cx="391.0" cy="407.0" r="1.35"/><circle cx="391.0" cy="409.0" r="1.35"/><circle cx="391.0" cy="411.0" r="1.35"/><circle cx="391.0" cy="414.0" r="1.35"/><circle cx="391.0" cy="419.0" r="1.35"/><circle cx="391.0" cy="424.0" r="1.35"/><circle cx="391.0" cy="426.0" r="1.35"/><circle cx="391.0" cy="428.0" r="1.35"/><circle cx="391.0" cy="430.0" r="1.35"/><circle cx="391.0" cy="432.0" r="1.35"/><circle cx="391.0" cy="435.0" r="1.35"/><circle cx="391.0" cy="440.0" r="1.35"/><circle cx="391.0" cy="442.0" r="1.35"/><circle cx="391.0" cy="444.0" r="1.35"/><circle cx="391.0" cy="446.0" r="1.35"/><circle cx="391.0" cy="448.0" r="1.35"/><circle cx="391.0" cy="451.0" r="1.35"/><circle cx="391.0" cy="454.0" r="1.35"/><circle cx="391.0" cy="459.0" r="1.35"/><circle cx="391.0" cy="464.0" r="1.35"/><circle cx="391.0" cy="466.0" r="1.35"/><circle cx="391.0" cy="468.0" r="1.35"/><circle cx="391.0" cy="476.0" r="1.35"/><circle cx="391.0" cy="489.3" r="1.35"/><circle cx="391.0" cy="515.2" r="1.35"/></g>
<line x1="28.2" y1="10.6" x2="30.5" y2="10.6" stroke="#333" stroke-width="0.8"/>
<text x="26.6" y="13.1" font-size="6.9" fill="#4d4d4d" stroke="#4d4d4d" stroke-width="0.08" text-anchor="end">50</text>
<line x1="28.2" y1="40.1" x2="30.5" y2="40.1" stroke="#333" stroke-width="0.8"/>
<text x="26.6" y="42.6" font-size="6.9" fill="#4d4d4d" stroke="#4d4d4d" stroke-width="0.08" text-anchor="end">30</text>
<line x1="28.2" y1="103.8" x2="30.5" y2="103.8" stroke="#333" stroke-width="0.8"/>
<text x="26.6" y="106.2" font-size="6.9" fill="#4d4d4d" stroke="#4d4d4d" stroke-width="0.08" text-anchor="end">10</text>
<line x1="28.2" y1="144.2" x2="30.5" y2="144.2" stroke="#333" stroke-width="0.8"/>
<text x="26.6" y="146.6" font-size="6.9" fill="#4d4d4d" stroke="#4d4d4d" stroke-width="0.08" text-anchor="end">5</text>
<line x1="215.5" y1="7.9" x2="217.8" y2="7.9" stroke="#333" stroke-width="0.8"/>
<text x="213.9" y="10.4" font-size="6.9" fill="#4d4d4d" stroke="#4d4d4d" stroke-width="0.08" text-anchor="end">50</text>
<line x1="215.5" y1="38.2" x2="217.8" y2="38.2" stroke="#333" stroke-width="0.8"/>
<text x="213.9" y="40.7" font-size="6.9" fill="#4d4d4d" stroke="#4d4d4d" stroke-width="0.08" text-anchor="end">30</text>
<line x1="215.5" y1="103.1" x2="217.8" y2="103.1" stroke="#333" stroke-width="0.8"/>
<text x="213.9" y="105.5" font-size="6.9" fill="#4d4d4d" stroke="#4d4d4d" stroke-width="0.08" text-anchor="end">10</text>
<line x1="215.5" y1="144.2" x2="217.8" y2="144.2" stroke="#333" stroke-width="0.8"/>
<text x="213.9" y="146.6" font-size="6.9" fill="#4d4d4d" stroke="#4d4d4d" stroke-width="0.08" text-anchor="end">5</text>
<line x1="28.2" y1="214.9" x2="30.5" y2="214.9" stroke="#333" stroke-width="0.8"/>
<text x="26.6" y="217.3" font-size="6.9" fill="#4d4d4d" stroke="#4d4d4d" stroke-width="0.08" text-anchor="end">3.0</text>
<line x1="28.2" y1="291.3" x2="30.5" y2="291.3" stroke="#333" stroke-width="0.8"/>
<text x="26.6" y="293.8" font-size="6.9" fill="#4d4d4d" stroke="#4d4d4d" stroke-width="0.08" text-anchor="end">1.0</text>
<line x1="28.2" y1="339.5" x2="30.5" y2="339.5" stroke="#333" stroke-width="0.8"/>
<text x="26.6" y="341.9" font-size="6.9" fill="#4d4d4d" stroke="#4d4d4d" stroke-width="0.08" text-anchor="end">0.5</text>
<line x1="215.5" y1="197.6" x2="217.8" y2="197.6" stroke="#333" stroke-width="0.8"/>
<text x="213.9" y="200.0" font-size="6.9" fill="#4d4d4d" stroke="#4d4d4d" stroke-width="0.08" text-anchor="end">3.0</text>
<line x1="215.5" y1="284.8" x2="217.8" y2="284.8" stroke="#333" stroke-width="0.8"/>
<text x="213.9" y="287.2" font-size="6.9" fill="#4d4d4d" stroke="#4d4d4d" stroke-width="0.08" text-anchor="end">1.0</text>
<line x1="215.5" y1="339.8" x2="217.8" y2="339.8" stroke="#333" stroke-width="0.8"/>
<text x="213.9" y="342.2" font-size="6.9" fill="#4d4d4d" stroke="#4d4d4d" stroke-width="0.08" text-anchor="end">0.5</text>
<line x1="28.2" y1="371.5" x2="30.5" y2="371.5" stroke="#333" stroke-width="0.8"/>
<text x="26.6" y="373.9" font-size="6.9" fill="#4d4d4d" stroke="#4d4d4d" stroke-width="0.08" text-anchor="end">30</text>
<line x1="28.2" y1="451.7" x2="30.5" y2="451.7" stroke="#333" stroke-width="0.8"/>
<text x="26.6" y="454.1" font-size="6.9" fill="#4d4d4d" stroke="#4d4d4d" stroke-width="0.08" text-anchor="end">10</text>
<line x1="28.2" y1="502.4" x2="30.5" y2="502.4" stroke="#333" stroke-width="0.8"/>
<text x="26.6" y="504.8" font-size="6.9" fill="#4d4d4d" stroke="#4d4d4d" stroke-width="0.08" text-anchor="end">5</text>
<line x1="215.5" y1="399.4" x2="217.8" y2="399.4" stroke="#333" stroke-width="0.8"/>
<text x="213.9" y="401.8" font-size="6.9" fill="#4d4d4d" stroke="#4d4d4d" stroke-width="0.08" text-anchor="end">20</text>
<line x1="215.5" y1="450.5" x2="217.8" y2="450.5" stroke="#333" stroke-width="0.8"/>
<text x="213.9" y="452.9" font-size="6.9" fill="#4d4d4d" stroke="#4d4d4d" stroke-width="0.08" text-anchor="end">10</text>
<line x1="215.5" y1="501.6" x2="217.8" y2="501.6" stroke="#333" stroke-width="0.8"/>
<text x="213.9" y="504.1" font-size="6.9" fill="#4d4d4d" stroke="#4d4d4d" stroke-width="0.08" text-anchor="end">5</text>
<line x1="71.6" y1="158.6" x2="71.6" y2="160.9" stroke="#333" stroke-width="0.8"/>
<text x="71.6" y="168.2" font-size="6.9" fill="#4d4d4d" stroke="#4d4d4d" stroke-width="0.08" text-anchor="middle">2690m (Hezuo)</text>
<line x1="140.2" y1="158.6" x2="140.2" y2="160.9" stroke="#333" stroke-width="0.8"/>
<text x="140.2" y="168.2" font-size="6.9" fill="#4d4d4d" stroke="#4d4d4d" stroke-width="0.08" text-anchor="middle">3650m (Maqu)</text>
<line x1="71.6" y1="340.5" x2="71.6" y2="342.8" stroke="#333" stroke-width="0.8"/>
<text x="71.6" y="350.1" font-size="6.9" fill="#4d4d4d" stroke="#4d4d4d" stroke-width="0.08" text-anchor="middle">2690m (Hezuo)</text>
<line x1="140.2" y1="340.5" x2="140.2" y2="342.8" stroke="#333" stroke-width="0.8"/>
<text x="140.2" y="350.1" font-size="6.9" fill="#4d4d4d" stroke="#4d4d4d" stroke-width="0.08" text-anchor="middle">3650m (Maqu)</text>
<line x1="71.6" y1="522.5" x2="71.6" y2="524.8" stroke="#333" stroke-width="0.8"/>
<text x="71.6" y="532.1" font-size="6.9" fill="#4d4d4d" stroke="#4d4d4d" stroke-width="0.08" text-anchor="middle">2690m (Hezuo)</text>
<line x1="140.2" y1="522.5" x2="140.2" y2="524.8" stroke="#333" stroke-width="0.8"/>
<text x="140.2" y="532.1" font-size="6.9" fill="#4d4d4d" stroke="#4d4d4d" stroke-width="0.08" text-anchor="middle">3650m (Maqu)</text>
<line x1="257.8" y1="158.6" x2="257.8" y2="160.9" stroke="#333" stroke-width="0.8"/>
<text x="257.8" y="168.2" font-size="6.9" fill="#4d4d4d" stroke="#4d4d4d" stroke-width="0.08" text-anchor="middle">SFS</text>
<line x1="324.4" y1="158.6" x2="324.4" y2="160.9" stroke="#333" stroke-width="0.8"/>
<text x="324.4" y="168.2" font-size="6.9" fill="#4d4d4d" stroke="#4d4d4d" stroke-width="0.08" text-anchor="middle">WFS</text>
<line x1="391.0" y1="158.6" x2="391.0" y2="160.9" stroke="#333" stroke-width="0.8"/>
<text x="391.0" y="168.2" font-size="6.9" fill="#4d4d4d" stroke="#4d4d4d" stroke-width="0.08" text-anchor="middle">NFS</text>
<line x1="257.8" y1="340.5" x2="257.8" y2="342.8" stroke="#333" stroke-width="0.8"/>
<text x="257.8" y="350.1" font-size="6.9" fill="#4d4d4d" stroke="#4d4d4d" stroke-width="0.08" text-anchor="middle">SFS</text>
<line x1="324.4" y1="340.5" x2="324.4" y2="342.8" stroke="#333" stroke-width="0.8"/>
<text x="324.4" y="350.1" font-size="6.9" fill="#4d4d4d" stroke="#4d4d4d" stroke-width="0.08" text-anchor="middle">WFS</text>
<line x1="391.0" y1="340.5" x2="391.0" y2="342.8" stroke="#333" stroke-width="0.8"/>
<text x="391.0" y="350.1" font-size="6.9" fill="#4d4d4d" stroke="#4d4d4d" stroke-width="0.08" text-anchor="middle">NFS</text>
<line x1="257.8" y1="522.5" x2="257.8" y2="524.8" stroke="#333" stroke-width="0.8"/>
<text x="257.8" y="532.1" font-size="6.9" fill="#4d4d4d" stroke="#4d4d4d" stroke-width="0.08" text-anchor="middle">SFS</text>
<line x1="324.4" y1="522.5" x2="324.4" y2="524.8" stroke="#333" stroke-width="0.8"/>
<text x="324.4" y="532.1" font-size="6.9" fill="#4d4d4d" stroke="#4d4d4d" stroke-width="0.08" text-anchor="middle">WFS</text>
<line x1="391.0" y1="522.5" x2="391.0" y2="524.8" stroke="#333" stroke-width="0.8"/>
<text x="391.0" y="532.1" font-size="6.9" fill="#4d4d4d" stroke="#4d4d4d" stroke-width="0.08" text-anchor="middle">NFS</text>
<text x="40.3" y="17.0" font-size="10.6" font-weight="bold" fill="#000">A</text>
<text x="239.8" y="16.8" font-size="10.6" font-weight="bold" fill="#000">B</text>
<text x="40.3" y="199.2" font-size="10.6" font-weight="bold" fill="#000">C</text>
<text x="239.8" y="199.2" font-size="10.6" font-weight="bold" fill="#000">D</text>
<text x="40.1" y="381.0" font-size="10.6" font-weight="bold" fill="#000">E</text>
<text x="239.0" y="381.0" font-size="10.6" font-weight="bold" fill="#000">F</text>
<text x="71.6" y="15.5" font-size="8.2" fill="#1a1a1a" stroke="#1a1a1a" stroke-width="0.15" text-anchor="middle">a</text>
<text x="140.2" y="24.5" font-size="8.2" fill="#1a1a1a" stroke="#1a1a1a" stroke-width="0.15" text-anchor="middle">b</text>
<text x="324.2" y="15.9" font-size="8.2" fill="#1a1a1a" stroke="#1a1a1a" stroke-width="0.15" text-anchor="middle">ns</text>
<text x="71.6" y="199.0" font-size="8.2" fill="#1a1a1a" stroke="#1a1a1a" stroke-width="0.15" text-anchor="middle">a</text>
<text x="140.2" y="218.0" font-size="8.2" fill="#1a1a1a" stroke="#1a1a1a" stroke-width="0.15" text-anchor="middle">b</text>
<text x="324.2" y="200.8" font-size="8.2" fill="#1a1a1a" stroke="#1a1a1a" stroke-width="0.15" text-anchor="middle">ns</text>
<text x="71.6" y="380.2" font-size="8.2" fill="#1a1a1a" stroke="#1a1a1a" stroke-width="0.15" text-anchor="middle">a</text>
<text x="140.2" y="388.5" font-size="8.2" fill="#1a1a1a" stroke="#1a1a1a" stroke-width="0.15" text-anchor="middle">b</text>
<text x="257.8" y="380.0" font-size="8.2" fill="#1a1a1a" stroke="#1a1a1a" stroke-width="0.15" text-anchor="middle">a</text>
<text x="324.2" y="388.6" font-size="8.2" fill="#1a1a1a" stroke="#1a1a1a" stroke-width="0.15" text-anchor="middle">ab</text>
<text x="391.0" y="385.6" font-size="8.2" fill="#1a1a1a" stroke="#1a1a1a" stroke-width="0.15" text-anchor="middle">b</text>
<text x="106.1" y="541.8" font-size="8.4" fill="#000" stroke="#000" stroke-width="0.15" text-anchor="middle">Elevations</text>
<text x="324.5" y="541.8" font-size="8.4" fill="#000" stroke="#000" stroke-width="0.15" text-anchor="middle">Slope aspects</text>
<text transform="translate(11.5 82.5) rotate(-90)" font-size="8.4" word-spacing="0.45" fill="#000" stroke="#000" stroke-width="0.2" text-anchor="middle">Leaf N (mg g<tspan font-size="6.2" dy="-4" dx="0.9">-1</tspan><tspan dy="4" dx="0.7">)</tspan></text>
<text transform="translate(11.5 264.5) rotate(-90)" font-size="8.4" word-spacing="0.45" fill="#000" stroke="#000" stroke-width="0.2" text-anchor="middle">Leaf p (mg g<tspan font-size="6.2" dy="-4" dx="0.9">-1</tspan><tspan dy="4" dx="0.7">)</tspan></text>
<text transform="translate(11.5 447.6) rotate(-90)" font-size="8.2" word-spacing="0.45" fill="#000" stroke="#000" stroke-width="0.2" text-anchor="middle">Leaf N: P ratio</text>
</g>
</svg>
</body></html>
